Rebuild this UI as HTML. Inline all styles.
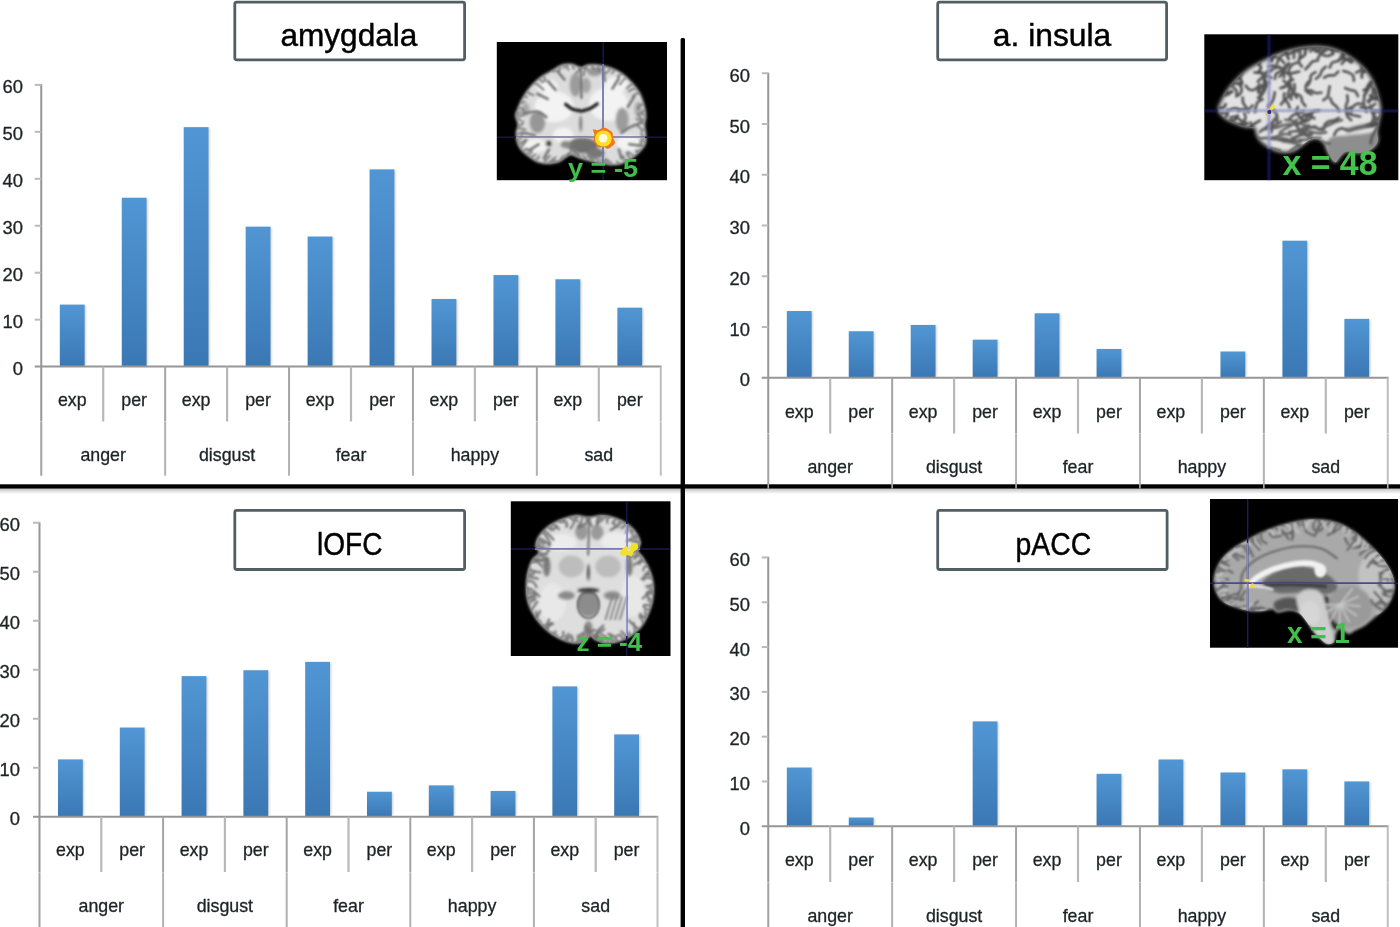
<!DOCTYPE html>
<html lang="en"><head><meta charset="utf-8"><title>figure</title>
<style>html,body{margin:0;padding:0;background:#fff;}body{width:1400px;height:927px;position:relative;overflow:hidden;font-family:"Liberation Sans", sans-serif;}</style>
</head><body>
<svg width="1400" height="927" viewBox="0 0 1400 927" style="position:absolute;left:0;top:0" font-family='"Liberation Sans", sans-serif'>
<defs>
<linearGradient id="bar" x1="0" y1="0" x2="0" y2="1"><stop offset="0" stop-color="#5196d4"/><stop offset="1" stop-color="#3a78b4"/></linearGradient>
<linearGradient id="shd" x1="0" y1="0" x2="0" y2="1"><stop offset="0" stop-color="#000" stop-opacity="0.24"/><stop offset="1" stop-color="#000" stop-opacity="0"/></linearGradient>
<filter id="b1" x="-20%" y="-20%" width="140%" height="140%"><feGaussianBlur stdDeviation="1"/></filter>
<filter id="b2" x="-20%" y="-20%" width="140%" height="140%"><feGaussianBlur stdDeviation="2"/></filter>
<filter id="b06" x="-20%" y="-20%" width="140%" height="140%"><feGaussianBlur stdDeviation="0.6"/></filter>
<filter id="b12" x="-20%" y="-20%" width="140%" height="140%"><feGaussianBlur stdDeviation="1.2"/></filter>
<filter id="b15" x="-20%" y="-20%" width="140%" height="140%"><feGaussianBlur stdDeviation="1.5"/></filter>
</defs>
<rect width="1400" height="927" fill="#fff"/>
<rect x="61.02" y="305.43" width="24.8" height="59.77" fill="#000" opacity="0.18" filter="url(#b1)"/>
<rect x="59.82" y="304.63" width="24.8" height="61.97" fill="url(#bar)"/>
<rect x="122.98" y="198.57" width="24.8" height="166.63" fill="#000" opacity="0.18" filter="url(#b1)"/>
<rect x="121.78" y="197.77" width="24.8" height="168.83" fill="url(#bar)"/>
<rect x="184.92" y="127.95" width="24.8" height="237.25" fill="#000" opacity="0.18" filter="url(#b1)"/>
<rect x="183.72" y="127.16" width="24.8" height="239.45" fill="url(#bar)"/>
<rect x="246.88" y="227.49" width="24.8" height="137.71" fill="#000" opacity="0.18" filter="url(#b1)"/>
<rect x="245.68" y="226.69" width="24.8" height="139.91" fill="url(#bar)"/>
<rect x="308.83" y="237.35" width="24.8" height="127.85" fill="#000" opacity="0.18" filter="url(#b1)"/>
<rect x="307.63" y="236.55" width="24.8" height="130.05" fill="url(#bar)"/>
<rect x="370.78" y="170.21" width="24.8" height="194.99" fill="#000" opacity="0.18" filter="url(#b1)"/>
<rect x="369.58" y="169.41" width="24.8" height="197.19" fill="url(#bar)"/>
<rect x="432.73" y="299.79" width="24.8" height="65.41" fill="#000" opacity="0.18" filter="url(#b1)"/>
<rect x="431.53" y="298.99" width="24.8" height="67.61" fill="url(#bar)"/>
<rect x="494.68" y="275.85" width="24.8" height="89.35" fill="#000" opacity="0.18" filter="url(#b1)"/>
<rect x="493.48" y="275.05" width="24.8" height="91.55" fill="url(#bar)"/>
<rect x="556.63" y="280.07" width="24.8" height="85.13" fill="#000" opacity="0.18" filter="url(#b1)"/>
<rect x="555.43" y="279.27" width="24.8" height="87.33" fill="url(#bar)"/>
<rect x="618.58" y="308.48" width="24.8" height="56.72" fill="#000" opacity="0.18" filter="url(#b1)"/>
<rect x="617.38" y="307.68" width="24.8" height="58.92" fill="url(#bar)"/>
<g stroke="#969696" stroke-width="2" fill="none">
<line x1="41.25" y1="84.29999999999998" x2="41.25" y2="421.5"/>
<line x1="41.25" y1="421.8" x2="41.25" y2="475.75" stroke="#a2a2a2"/>
<line x1="34.75" y1="366.6" x2="661.55" y2="366.6"/>
<line x1="34.75" y1="319.65" x2="41.25" y2="319.65" stroke="#bababa"/>
<line x1="34.75" y1="272.70" x2="41.25" y2="272.70" stroke="#bababa"/>
<line x1="34.75" y1="225.75" x2="41.25" y2="225.75" stroke="#bababa"/>
<line x1="34.75" y1="178.80" x2="41.25" y2="178.80" stroke="#bababa"/>
<line x1="34.75" y1="131.85" x2="41.25" y2="131.85" stroke="#bababa"/>
<line x1="34.75" y1="84.90" x2="41.25" y2="84.90" stroke="#bababa"/>
<line x1="103.20" y1="366.6" x2="103.20" y2="421.5" stroke="#b8b8b8" stroke-width="2.2"/>
<line x1="165.15" y1="366.6" x2="165.15" y2="421.5" stroke="#a4a4a4"/>
<line x1="165.15" y1="421.8" x2="165.15" y2="475.75" stroke="#b2b2b2"/>
<line x1="227.10" y1="366.6" x2="227.10" y2="421.5" stroke="#b8b8b8" stroke-width="2.2"/>
<line x1="289.05" y1="366.6" x2="289.05" y2="421.5" stroke="#a4a4a4"/>
<line x1="289.05" y1="421.8" x2="289.05" y2="475.75" stroke="#b2b2b2"/>
<line x1="351.00" y1="366.6" x2="351.00" y2="421.5" stroke="#b8b8b8" stroke-width="2.2"/>
<line x1="412.95" y1="366.6" x2="412.95" y2="421.5" stroke="#a4a4a4"/>
<line x1="412.95" y1="421.8" x2="412.95" y2="475.75" stroke="#b2b2b2"/>
<line x1="474.90" y1="366.6" x2="474.90" y2="421.5" stroke="#b8b8b8" stroke-width="2.2"/>
<line x1="536.85" y1="366.6" x2="536.85" y2="421.5" stroke="#a4a4a4"/>
<line x1="536.85" y1="421.8" x2="536.85" y2="475.75" stroke="#b2b2b2"/>
<line x1="598.80" y1="366.6" x2="598.80" y2="421.5" stroke="#b8b8b8" stroke-width="2.2"/>
<line x1="660.75" y1="366.6" x2="660.75" y2="421.5" stroke="#bcbcbc"/>
<line x1="660.75" y1="421.8" x2="660.75" y2="475.75" stroke="#c0c0c0"/>
</g>
<g fill="#1c2326" font-size="17.8" stroke="#1c2326" stroke-width="0.3">
<text x="23" y="375.10" text-anchor="end" font-size="18.4">0</text>
<text x="23" y="328.15" text-anchor="end" font-size="18.4">10</text>
<text x="23" y="281.20" text-anchor="end" font-size="18.4">20</text>
<text x="23" y="234.25" text-anchor="end" font-size="18.4">30</text>
<text x="23" y="187.30" text-anchor="end" font-size="18.4">40</text>
<text x="23" y="140.35" text-anchor="end" font-size="18.4">50</text>
<text x="23" y="93.40" text-anchor="end" font-size="18.4">60</text>
<text x="72.22" y="405.85" text-anchor="middle">exp</text>
<text x="134.18" y="405.85" text-anchor="middle">per</text>
<text x="196.12" y="405.85" text-anchor="middle">exp</text>
<text x="258.08" y="405.85" text-anchor="middle">per</text>
<text x="320.03" y="405.85" text-anchor="middle">exp</text>
<text x="381.98" y="405.85" text-anchor="middle">per</text>
<text x="443.93" y="405.85" text-anchor="middle">exp</text>
<text x="505.88" y="405.85" text-anchor="middle">per</text>
<text x="567.83" y="405.85" text-anchor="middle">exp</text>
<text x="629.77" y="405.85" text-anchor="middle">per</text>
<text x="103.20" y="461.10" text-anchor="middle">anger</text>
<text x="227.10" y="461.10" text-anchor="middle">disgust</text>
<text x="351.00" y="461.10" text-anchor="middle">fear</text>
<text x="474.90" y="461.10" text-anchor="middle">happy</text>
<text x="598.80" y="461.10" text-anchor="middle">sad</text>
</g>
<rect x="788.03" y="311.81" width="24.8" height="64.54" fill="#000" opacity="0.18" filter="url(#b1)"/>
<rect x="786.83" y="311.01" width="24.8" height="66.74" fill="url(#bar)"/>
<rect x="849.98" y="332.06" width="24.8" height="44.29" fill="#000" opacity="0.18" filter="url(#b1)"/>
<rect x="848.77" y="331.26" width="24.8" height="46.49" fill="url(#bar)"/>
<rect x="911.93" y="325.77" width="24.8" height="50.58" fill="#000" opacity="0.18" filter="url(#b1)"/>
<rect x="910.73" y="324.97" width="24.8" height="52.78" fill="url(#bar)"/>
<rect x="973.88" y="340.49" width="24.8" height="35.86" fill="#000" opacity="0.18" filter="url(#b1)"/>
<rect x="972.68" y="339.69" width="24.8" height="38.06" fill="url(#bar)"/>
<rect x="1035.83" y="314.10" width="24.8" height="62.25" fill="#000" opacity="0.18" filter="url(#b1)"/>
<rect x="1034.62" y="313.30" width="24.8" height="64.45" fill="url(#bar)"/>
<rect x="1097.77" y="349.77" width="24.8" height="26.58" fill="#000" opacity="0.18" filter="url(#b1)"/>
<rect x="1096.57" y="348.97" width="24.8" height="28.78" fill="url(#bar)"/>
<rect x="1221.67" y="352.31" width="24.8" height="24.04" fill="#000" opacity="0.18" filter="url(#b1)"/>
<rect x="1220.47" y="351.51" width="24.8" height="26.24" fill="url(#bar)"/>
<rect x="1283.62" y="241.53" width="24.8" height="134.83" fill="#000" opacity="0.18" filter="url(#b1)"/>
<rect x="1282.42" y="240.72" width="24.8" height="137.03" fill="url(#bar)"/>
<rect x="1345.58" y="319.68" width="24.8" height="56.67" fill="#000" opacity="0.18" filter="url(#b1)"/>
<rect x="1344.38" y="318.88" width="24.8" height="58.87" fill="url(#bar)"/>
<g stroke="#969696" stroke-width="2" fill="none">
<line x1="768.25" y1="72.65" x2="768.25" y2="433.5"/>
<line x1="768.25" y1="433.8" x2="768.25" y2="484.6" stroke="#a2a2a2"/>
<line x1="761.75" y1="377.75" x2="1388.55" y2="377.75"/>
<line x1="761.75" y1="327.00" x2="768.25" y2="327.00" stroke="#bababa"/>
<line x1="761.75" y1="276.25" x2="768.25" y2="276.25" stroke="#bababa"/>
<line x1="761.75" y1="225.50" x2="768.25" y2="225.50" stroke="#bababa"/>
<line x1="761.75" y1="174.75" x2="768.25" y2="174.75" stroke="#bababa"/>
<line x1="761.75" y1="124.00" x2="768.25" y2="124.00" stroke="#bababa"/>
<line x1="761.75" y1="73.25" x2="768.25" y2="73.25" stroke="#bababa"/>
<line x1="830.20" y1="377.75" x2="830.20" y2="433.5" stroke="#b8b8b8" stroke-width="2.2"/>
<line x1="892.15" y1="377.75" x2="892.15" y2="433.5" stroke="#a4a4a4"/>
<line x1="892.15" y1="433.8" x2="892.15" y2="484.6" stroke="#b2b2b2"/>
<line x1="954.10" y1="377.75" x2="954.10" y2="433.5" stroke="#b8b8b8" stroke-width="2.2"/>
<line x1="1016.05" y1="377.75" x2="1016.05" y2="433.5" stroke="#a4a4a4"/>
<line x1="1016.05" y1="433.8" x2="1016.05" y2="484.6" stroke="#b2b2b2"/>
<line x1="1078.00" y1="377.75" x2="1078.00" y2="433.5" stroke="#b8b8b8" stroke-width="2.2"/>
<line x1="1139.95" y1="377.75" x2="1139.95" y2="433.5" stroke="#a4a4a4"/>
<line x1="1139.95" y1="433.8" x2="1139.95" y2="484.6" stroke="#b2b2b2"/>
<line x1="1201.90" y1="377.75" x2="1201.90" y2="433.5" stroke="#b8b8b8" stroke-width="2.2"/>
<line x1="1263.85" y1="377.75" x2="1263.85" y2="433.5" stroke="#a4a4a4"/>
<line x1="1263.85" y1="433.8" x2="1263.85" y2="484.6" stroke="#b2b2b2"/>
<line x1="1325.80" y1="377.75" x2="1325.80" y2="433.5" stroke="#b8b8b8" stroke-width="2.2"/>
<line x1="1387.75" y1="377.75" x2="1387.75" y2="433.5" stroke="#bcbcbc"/>
<line x1="1387.75" y1="433.8" x2="1387.75" y2="484.6" stroke="#c0c0c0"/>
</g>
<g fill="#1c2326" font-size="17.8" stroke="#1c2326" stroke-width="0.3">
<text x="750" y="386.25" text-anchor="end" font-size="18.4">0</text>
<text x="750" y="335.50" text-anchor="end" font-size="18.4">10</text>
<text x="750" y="284.75" text-anchor="end" font-size="18.4">20</text>
<text x="750" y="234.00" text-anchor="end" font-size="18.4">30</text>
<text x="750" y="183.25" text-anchor="end" font-size="18.4">40</text>
<text x="750" y="132.50" text-anchor="end" font-size="18.4">50</text>
<text x="750" y="81.75" text-anchor="end" font-size="18.4">60</text>
<text x="799.23" y="417.60" text-anchor="middle">exp</text>
<text x="861.17" y="417.60" text-anchor="middle">per</text>
<text x="923.12" y="417.60" text-anchor="middle">exp</text>
<text x="985.08" y="417.60" text-anchor="middle">per</text>
<text x="1047.03" y="417.60" text-anchor="middle">exp</text>
<text x="1108.97" y="417.60" text-anchor="middle">per</text>
<text x="1170.92" y="417.60" text-anchor="middle">exp</text>
<text x="1232.88" y="417.60" text-anchor="middle">per</text>
<text x="1294.83" y="417.60" text-anchor="middle">exp</text>
<text x="1356.78" y="417.60" text-anchor="middle">per</text>
<text x="830.20" y="473.10" text-anchor="middle">anger</text>
<text x="954.10" y="473.10" text-anchor="middle">disgust</text>
<text x="1078.00" y="473.10" text-anchor="middle">fear</text>
<text x="1201.90" y="473.10" text-anchor="middle">happy</text>
<text x="1325.80" y="473.10" text-anchor="middle">sad</text>
</g>
<rect x="59.20" y="760.22" width="24.8" height="55.13" fill="#000" opacity="0.18" filter="url(#b1)"/>
<rect x="58.00" y="759.42" width="24.8" height="57.33" fill="url(#bar)"/>
<rect x="121.00" y="728.37" width="24.8" height="86.98" fill="#000" opacity="0.18" filter="url(#b1)"/>
<rect x="119.80" y="727.57" width="24.8" height="89.18" fill="url(#bar)"/>
<rect x="182.80" y="676.92" width="24.8" height="138.43" fill="#000" opacity="0.18" filter="url(#b1)"/>
<rect x="181.60" y="676.12" width="24.8" height="140.63" fill="url(#bar)"/>
<rect x="244.60" y="671.04" width="24.8" height="144.31" fill="#000" opacity="0.18" filter="url(#b1)"/>
<rect x="243.40" y="670.24" width="24.8" height="146.51" fill="url(#bar)"/>
<rect x="306.40" y="662.71" width="24.8" height="152.64" fill="#000" opacity="0.18" filter="url(#b1)"/>
<rect x="305.20" y="661.91" width="24.8" height="154.84" fill="url(#bar)"/>
<rect x="368.20" y="792.56" width="24.8" height="22.79" fill="#000" opacity="0.18" filter="url(#b1)"/>
<rect x="367.00" y="791.76" width="24.8" height="24.99" fill="url(#bar)"/>
<rect x="430.00" y="786.19" width="24.8" height="29.16" fill="#000" opacity="0.18" filter="url(#b1)"/>
<rect x="428.80" y="785.39" width="24.8" height="31.36" fill="url(#bar)"/>
<rect x="491.80" y="791.78" width="24.8" height="23.57" fill="#000" opacity="0.18" filter="url(#b1)"/>
<rect x="490.60" y="790.98" width="24.8" height="25.77" fill="url(#bar)"/>
<rect x="553.60" y="687.21" width="24.8" height="128.14" fill="#000" opacity="0.18" filter="url(#b1)"/>
<rect x="552.40" y="686.41" width="24.8" height="130.34" fill="url(#bar)"/>
<rect x="615.40" y="735.23" width="24.8" height="80.12" fill="#000" opacity="0.18" filter="url(#b1)"/>
<rect x="614.20" y="734.43" width="24.8" height="82.32" fill="url(#bar)"/>
<g stroke="#969696" stroke-width="2" fill="none">
<line x1="39.5" y1="522.15" x2="39.5" y2="872.0"/>
<line x1="39.5" y1="872.3" x2="39.5" y2="930" stroke="#a2a2a2"/>
<line x1="33.0" y1="816.75" x2="658.3" y2="816.75"/>
<line x1="33.0" y1="767.75" x2="39.5" y2="767.75" stroke="#bababa"/>
<line x1="33.0" y1="718.75" x2="39.5" y2="718.75" stroke="#bababa"/>
<line x1="33.0" y1="669.75" x2="39.5" y2="669.75" stroke="#bababa"/>
<line x1="33.0" y1="620.75" x2="39.5" y2="620.75" stroke="#bababa"/>
<line x1="33.0" y1="571.75" x2="39.5" y2="571.75" stroke="#bababa"/>
<line x1="33.0" y1="522.75" x2="39.5" y2="522.75" stroke="#bababa"/>
<line x1="101.30" y1="816.75" x2="101.30" y2="872.0" stroke="#b8b8b8" stroke-width="2.2"/>
<line x1="163.10" y1="816.75" x2="163.10" y2="872.0" stroke="#a4a4a4"/>
<line x1="163.10" y1="872.3" x2="163.10" y2="930" stroke="#b2b2b2"/>
<line x1="224.90" y1="816.75" x2="224.90" y2="872.0" stroke="#b8b8b8" stroke-width="2.2"/>
<line x1="286.70" y1="816.75" x2="286.70" y2="872.0" stroke="#a4a4a4"/>
<line x1="286.70" y1="872.3" x2="286.70" y2="930" stroke="#b2b2b2"/>
<line x1="348.50" y1="816.75" x2="348.50" y2="872.0" stroke="#b8b8b8" stroke-width="2.2"/>
<line x1="410.30" y1="816.75" x2="410.30" y2="872.0" stroke="#a4a4a4"/>
<line x1="410.30" y1="872.3" x2="410.30" y2="930" stroke="#b2b2b2"/>
<line x1="472.10" y1="816.75" x2="472.10" y2="872.0" stroke="#b8b8b8" stroke-width="2.2"/>
<line x1="533.90" y1="816.75" x2="533.90" y2="872.0" stroke="#a4a4a4"/>
<line x1="533.90" y1="872.3" x2="533.90" y2="930" stroke="#b2b2b2"/>
<line x1="595.70" y1="816.75" x2="595.70" y2="872.0" stroke="#b8b8b8" stroke-width="2.2"/>
<line x1="657.50" y1="816.75" x2="657.50" y2="872.0" stroke="#bcbcbc"/>
<line x1="657.50" y1="872.3" x2="657.50" y2="930" stroke="#c0c0c0"/>
</g>
<g fill="#1c2326" font-size="17.8" stroke="#1c2326" stroke-width="0.3">
<text x="20" y="825.25" text-anchor="end" font-size="18.4">0</text>
<text x="20" y="776.25" text-anchor="end" font-size="18.4">10</text>
<text x="20" y="727.25" text-anchor="end" font-size="18.4">20</text>
<text x="20" y="678.25" text-anchor="end" font-size="18.4">30</text>
<text x="20" y="629.25" text-anchor="end" font-size="18.4">40</text>
<text x="20" y="580.25" text-anchor="end" font-size="18.4">50</text>
<text x="20" y="531.25" text-anchor="end" font-size="18.4">60</text>
<text x="70.40" y="855.60" text-anchor="middle">exp</text>
<text x="132.20" y="855.60" text-anchor="middle">per</text>
<text x="194.00" y="855.60" text-anchor="middle">exp</text>
<text x="255.80" y="855.60" text-anchor="middle">per</text>
<text x="317.60" y="855.60" text-anchor="middle">exp</text>
<text x="379.40" y="855.60" text-anchor="middle">per</text>
<text x="441.20" y="855.60" text-anchor="middle">exp</text>
<text x="503.00" y="855.60" text-anchor="middle">per</text>
<text x="564.80" y="855.60" text-anchor="middle">exp</text>
<text x="626.60" y="855.60" text-anchor="middle">per</text>
<text x="101.30" y="911.60" text-anchor="middle">anger</text>
<text x="224.90" y="911.60" text-anchor="middle">disgust</text>
<text x="348.50" y="911.60" text-anchor="middle">fear</text>
<text x="472.10" y="911.60" text-anchor="middle">happy</text>
<text x="595.70" y="911.60" text-anchor="middle">sad</text>
</g>
<rect x="788.03" y="768.36" width="24.8" height="56.49" fill="#000" opacity="0.18" filter="url(#b1)"/>
<rect x="786.83" y="767.56" width="24.8" height="58.69" fill="url(#bar)"/>
<rect x="849.98" y="818.31" width="24.8" height="6.54" fill="#000" opacity="0.18" filter="url(#b1)"/>
<rect x="848.77" y="817.51" width="24.8" height="8.74" fill="url(#bar)"/>
<rect x="973.88" y="722.22" width="24.8" height="102.63" fill="#000" opacity="0.18" filter="url(#b1)"/>
<rect x="972.68" y="721.42" width="24.8" height="104.83" fill="url(#bar)"/>
<rect x="1097.77" y="774.63" width="24.8" height="50.22" fill="#000" opacity="0.18" filter="url(#b1)"/>
<rect x="1096.57" y="773.83" width="24.8" height="52.42" fill="url(#bar)"/>
<rect x="1159.72" y="760.30" width="24.8" height="64.55" fill="#000" opacity="0.18" filter="url(#b1)"/>
<rect x="1158.52" y="759.50" width="24.8" height="66.75" fill="url(#bar)"/>
<rect x="1221.67" y="773.29" width="24.8" height="51.56" fill="#000" opacity="0.18" filter="url(#b1)"/>
<rect x="1220.47" y="772.49" width="24.8" height="53.76" fill="url(#bar)"/>
<rect x="1283.62" y="770.15" width="24.8" height="54.70" fill="#000" opacity="0.18" filter="url(#b1)"/>
<rect x="1282.42" y="769.35" width="24.8" height="56.90" fill="url(#bar)"/>
<rect x="1345.58" y="782.25" width="24.8" height="42.60" fill="#000" opacity="0.18" filter="url(#b1)"/>
<rect x="1344.38" y="781.45" width="24.8" height="44.80" fill="url(#bar)"/>
<g stroke="#969696" stroke-width="2" fill="none">
<line x1="768.25" y1="556.85" x2="768.25" y2="882.0"/>
<line x1="768.25" y1="882.3" x2="768.25" y2="930" stroke="#a2a2a2"/>
<line x1="761.75" y1="826.25" x2="1388.55" y2="826.25"/>
<line x1="761.75" y1="781.45" x2="768.25" y2="781.45" stroke="#bababa"/>
<line x1="761.75" y1="736.65" x2="768.25" y2="736.65" stroke="#bababa"/>
<line x1="761.75" y1="691.85" x2="768.25" y2="691.85" stroke="#bababa"/>
<line x1="761.75" y1="647.05" x2="768.25" y2="647.05" stroke="#bababa"/>
<line x1="761.75" y1="602.25" x2="768.25" y2="602.25" stroke="#bababa"/>
<line x1="761.75" y1="557.45" x2="768.25" y2="557.45" stroke="#bababa"/>
<line x1="830.20" y1="826.25" x2="830.20" y2="882.0" stroke="#b8b8b8" stroke-width="2.2"/>
<line x1="892.15" y1="826.25" x2="892.15" y2="882.0" stroke="#a4a4a4"/>
<line x1="892.15" y1="882.3" x2="892.15" y2="930" stroke="#b2b2b2"/>
<line x1="954.10" y1="826.25" x2="954.10" y2="882.0" stroke="#b8b8b8" stroke-width="2.2"/>
<line x1="1016.05" y1="826.25" x2="1016.05" y2="882.0" stroke="#a4a4a4"/>
<line x1="1016.05" y1="882.3" x2="1016.05" y2="930" stroke="#b2b2b2"/>
<line x1="1078.00" y1="826.25" x2="1078.00" y2="882.0" stroke="#b8b8b8" stroke-width="2.2"/>
<line x1="1139.95" y1="826.25" x2="1139.95" y2="882.0" stroke="#a4a4a4"/>
<line x1="1139.95" y1="882.3" x2="1139.95" y2="930" stroke="#b2b2b2"/>
<line x1="1201.90" y1="826.25" x2="1201.90" y2="882.0" stroke="#b8b8b8" stroke-width="2.2"/>
<line x1="1263.85" y1="826.25" x2="1263.85" y2="882.0" stroke="#a4a4a4"/>
<line x1="1263.85" y1="882.3" x2="1263.85" y2="930" stroke="#b2b2b2"/>
<line x1="1325.80" y1="826.25" x2="1325.80" y2="882.0" stroke="#b8b8b8" stroke-width="2.2"/>
<line x1="1387.75" y1="826.25" x2="1387.75" y2="882.0" stroke="#bcbcbc"/>
<line x1="1387.75" y1="882.3" x2="1387.75" y2="930" stroke="#c0c0c0"/>
</g>
<g fill="#1c2326" font-size="17.8" stroke="#1c2326" stroke-width="0.3">
<text x="750" y="834.75" text-anchor="end" font-size="18.4">0</text>
<text x="750" y="789.95" text-anchor="end" font-size="18.4">10</text>
<text x="750" y="745.15" text-anchor="end" font-size="18.4">20</text>
<text x="750" y="700.35" text-anchor="end" font-size="18.4">30</text>
<text x="750" y="655.55" text-anchor="end" font-size="18.4">40</text>
<text x="750" y="610.75" text-anchor="end" font-size="18.4">50</text>
<text x="750" y="565.95" text-anchor="end" font-size="18.4">60</text>
<text x="799.23" y="865.60" text-anchor="middle">exp</text>
<text x="861.17" y="865.60" text-anchor="middle">per</text>
<text x="923.12" y="865.60" text-anchor="middle">exp</text>
<text x="985.08" y="865.60" text-anchor="middle">per</text>
<text x="1047.03" y="865.60" text-anchor="middle">exp</text>
<text x="1108.97" y="865.60" text-anchor="middle">per</text>
<text x="1170.92" y="865.60" text-anchor="middle">exp</text>
<text x="1232.88" y="865.60" text-anchor="middle">per</text>
<text x="1294.83" y="865.60" text-anchor="middle">exp</text>
<text x="1356.78" y="865.60" text-anchor="middle">per</text>
<text x="830.20" y="921.60" text-anchor="middle">anger</text>
<text x="954.10" y="921.60" text-anchor="middle">disgust</text>
<text x="1078.00" y="921.60" text-anchor="middle">fear</text>
<text x="1201.90" y="921.60" text-anchor="middle">happy</text>
<text x="1325.80" y="921.60" text-anchor="middle">sad</text>
</g>
<rect x="0" y="484.3" width="1400" height="4.3" fill="#000"/>
<rect x="0" y="488.5" width="1400" height="5.5" fill="url(#shd)"/>
<line x1="768.25" y1="484" x2="768.25" y2="488.6" stroke="#b0b0b0" stroke-width="1.6"/>
<line x1="892.15" y1="484" x2="892.15" y2="488.6" stroke="#b0b0b0" stroke-width="1.6"/>
<line x1="1016.05" y1="484" x2="1016.05" y2="488.6" stroke="#b0b0b0" stroke-width="1.6"/>
<line x1="1139.95" y1="484" x2="1139.95" y2="488.6" stroke="#b0b0b0" stroke-width="1.6"/>
<line x1="1263.85" y1="484" x2="1263.85" y2="488.6" stroke="#b0b0b0" stroke-width="1.6"/>
<line x1="1387.75" y1="484" x2="1387.75" y2="488.6" stroke="#b0b0b0" stroke-width="1.6"/>
<rect x="680.6" y="38" width="4.4" height="900" rx="1.5" fill="#000"/>
<rect x="234.8" y="2.2" width="229.79999999999998" height="57.60000000000001" rx="2" fill="#fff" stroke="#525f62" stroke-width="2.8"/>
<text x="280.4" y="45.5" textLength="137.0" lengthAdjust="spacingAndGlyphs" font-size="32" fill="#000" stroke="#000" stroke-width="0.45">amygdala</text>
<rect x="937.6999999999999" y="2.2" width="228.90000000000003" height="57.60000000000001" rx="2" fill="#fff" stroke="#525f62" stroke-width="2.8"/>
<text x="992.8" y="45.5" textLength="118.5" lengthAdjust="spacingAndGlyphs" font-size="32" fill="#000" stroke="#000" stroke-width="0.45">a. insula</text>
<rect x="234.8" y="510.29999999999995" width="229.79999999999998" height="59.2" rx="2" fill="#fff" stroke="#525f62" stroke-width="2.8"/>
<text x="317.0" y="554.8" textLength="65.5" lengthAdjust="spacingAndGlyphs" font-size="32" fill="#000" stroke="#000" stroke-width="0.45">lOFC</text>
<rect x="937.6999999999999" y="510.29999999999995" width="229.40000000000003" height="59.2" rx="2" fill="#fff" stroke="#525f62" stroke-width="2.8"/>
<text x="1015.6" y="554.8" textLength="75.6" lengthAdjust="spacingAndGlyphs" font-size="32" fill="#000" stroke="#000" stroke-width="0.45">pACC</text>
<g id="brain1">
<rect x="496.8" y="42" width="170.2" height="138.2" fill="#000"/>
<clipPath id="c1"><rect x="496.8" y="42" width="170.2" height="138.2"/></clipPath>
<g clip-path="url(#c1)">
<g filter="url(#b15)">
<path d="M580.7,67.3C578.1,67.2 575.4,64.5 572.3,64.1C569.2,63.6 565.4,63.6 561.9,64.7C558.5,65.8 555.3,68.4 551.6,70.5C547.9,72.7 543.6,74.8 539.9,77.6C536.3,80.5 532.6,83.8 529.6,87.4C526.6,90.9 523.9,95.3 521.8,99.0C519.8,102.7 518.4,106.6 517.3,109.4C516.2,112.2 515.2,113.2 515.4,115.8C515.5,118.4 517.8,122.1 517.9,124.9C518.0,127.7 516.1,129.6 516.0,132.6C515.9,135.7 516.3,140.0 517.3,143.0C518.3,146.0 519.8,148.4 521.8,150.8C523.9,153.1 526.8,155.3 529.6,157.2C532.4,159.2 535.4,161.3 538.6,162.4C541.9,163.5 545.6,163.8 549.0,163.7C552.5,163.6 556.6,162.8 559.4,161.8C562.2,160.7 563.9,158.4 565.8,157.2C567.8,156.1 569.1,154.7 571.0,154.7C572.9,154.7 575.1,156.4 577.5,157.2C579.8,158.1 582.2,159.0 585.2,159.8C588.3,160.7 592.6,161.8 595.6,162.4C598.6,163.1 600.6,163.3 603.4,163.7C606.2,164.1 609.4,165.0 612.4,165.0C615.4,165.0 618.2,164.8 621.5,163.7C624.7,162.6 628.8,160.5 631.8,158.5C634.8,156.6 637.3,154.4 639.6,152.1C641.9,149.7 644.3,147.1 645.4,144.3C646.5,141.5 646.2,138.5 646.1,135.2C646.0,132.0 644.8,128.1 644.8,124.9C644.8,121.6 646.2,119.3 646.1,115.8C646.0,112.4 645.2,108.1 644.1,104.2C643.0,100.3 641.6,96.2 639.6,92.5C637.5,88.9 634.8,85.4 631.8,82.2C628.8,78.9 625.1,75.6 621.5,73.1C617.8,70.6 613.7,68.7 609.8,67.3C605.9,65.9 601.8,65.1 598.2,64.7C594.5,64.3 590.7,64.3 587.8,64.7C584.9,65.1 583.3,67.4 580.7,67.3Z" fill="#dcdcdc"/>
</g>
<clipPath id="c1b"><path d="M580.7,67.3C578.1,67.2 575.4,64.5 572.3,64.1C569.2,63.6 565.4,63.6 561.9,64.7C558.5,65.8 555.3,68.4 551.6,70.5C547.9,72.7 543.6,74.8 539.9,77.6C536.3,80.5 532.6,83.8 529.6,87.4C526.6,90.9 523.9,95.3 521.8,99.0C519.8,102.7 518.4,106.6 517.3,109.4C516.2,112.2 515.2,113.2 515.4,115.8C515.5,118.4 517.8,122.1 517.9,124.9C518.0,127.7 516.1,129.6 516.0,132.6C515.9,135.7 516.3,140.0 517.3,143.0C518.3,146.0 519.8,148.4 521.8,150.8C523.9,153.1 526.8,155.3 529.6,157.2C532.4,159.2 535.4,161.3 538.6,162.4C541.9,163.5 545.6,163.8 549.0,163.7C552.5,163.6 556.6,162.8 559.4,161.8C562.2,160.7 563.9,158.4 565.8,157.2C567.8,156.1 569.1,154.7 571.0,154.7C572.9,154.7 575.1,156.4 577.5,157.2C579.8,158.1 582.2,159.0 585.2,159.8C588.3,160.7 592.6,161.8 595.6,162.4C598.6,163.1 600.6,163.3 603.4,163.7C606.2,164.1 609.4,165.0 612.4,165.0C615.4,165.0 618.2,164.8 621.5,163.7C624.7,162.6 628.8,160.5 631.8,158.5C634.8,156.6 637.3,154.4 639.6,152.1C641.9,149.7 644.3,147.1 645.4,144.3C646.5,141.5 646.2,138.5 646.1,135.2C646.0,132.0 644.8,128.1 644.8,124.9C644.8,121.6 646.2,119.3 646.1,115.8C646.0,112.4 645.2,108.1 644.1,104.2C643.0,100.3 641.6,96.2 639.6,92.5C637.5,88.9 634.8,85.4 631.8,82.2C628.8,78.9 625.1,75.6 621.5,73.1C617.8,70.6 613.7,68.7 609.8,67.3C605.9,65.9 601.8,65.1 598.2,64.7C594.5,64.3 590.7,64.3 587.8,64.7C584.9,65.1 583.3,67.4 580.7,67.3Z"/></clipPath>
<g clip-path="url(#c1b)"><g filter="url(#b15)">
<ellipse cx="554.2" cy="106.8" rx="19.4" ry="15.5" fill="#f3f3f3"/>
<ellipse cx="608.5" cy="104.2" rx="19.4" ry="16.8" fill="#f3f3f3"/>
<ellipse cx="547.7" cy="87.4" rx="10.4" ry="7.8" fill="#f3f3f3"/>
<ellipse cx="616.3" cy="84.8" rx="11.6" ry="7.8" fill="#f3f3f3"/>
<ellipse cx="536.1" cy="145.6" rx="11.6" ry="6.5" fill="#f3f3f3"/>
<ellipse cx="627.9" cy="143.0" rx="11.6" ry="7.8" fill="#f3f3f3"/>
<ellipse cx="563.2" cy="135.2" rx="10.4" ry="7.8" fill="#f3f3f3"/>
<ellipse cx="575.5" cy="84.8" rx="5.8" ry="11.6" fill="#9c9c9c"/>
<ellipse cx="585.9" cy="85.4" rx="4.9" ry="7.8" fill="#a6a6a6"/>
<ellipse cx="594.3" cy="71.8" rx="7.1" ry="4.5" fill="#9a9a9a"/>
<ellipse cx="537.4" cy="122.3" rx="7.8" ry="11.0" fill="#969696"/>
<ellipse cx="622.1" cy="119.7" rx="6.5" ry="12.3" fill="#9c9c9c"/>
<ellipse cx="582.6" cy="145.6" rx="15.5" ry="7.8" fill="#707070"/>
<ellipse cx="548.4" cy="143.7" rx="2.8" ry="2.6" fill="#2e2e2e"/>
<ellipse cx="580.7" cy="123.6" rx="1.0" ry="8.4" fill="#4a4a4a"/>
<ellipse cx="525.7" cy="109.4" rx="3.9" ry="6.5" fill="#aaa"/>
<ellipse cx="638.3" cy="109.4" rx="3.9" ry="7.8" fill="#aaa"/>
<ellipse cx="565.8" cy="144.3" rx="5.2" ry="3.9" fill="#888"/>
<ellipse cx="595.6" cy="153.4" rx="9.1" ry="5.2" fill="#777"/>
</g><g filter="url(#b1)" fill="none" stroke-linecap="round">
<path d="M547.7,80.9C549.0,82.4 554.2,88.4 555.5,89.9" stroke="#777" stroke-width="2.6"/>
<path d="M556.8,70.5C558.1,72.0 563.2,78.1 564.5,79.6" stroke="#777" stroke-width="2.6"/>
<path d="M537.4,93.8C539.1,94.7 546.0,98.1 547.7,99.0" stroke="#777" stroke-width="2.6"/>
<path d="M524.4,113.2C526.6,113.0 533.7,111.3 537.4,111.9C541.0,112.6 544.9,116.3 546.4,117.1" stroke="#777" stroke-width="2.6"/>
<path d="M521.8,132.6C524.0,133.1 532.6,134.8 534.8,135.2" stroke="#777" stroke-width="2.6"/>
<path d="M528.3,150.8C530.0,149.7 536.9,145.4 538.6,144.3" stroke="#777" stroke-width="2.6"/>
<path d="M543.8,158.5C544.7,157.0 548.1,151.0 549.0,149.5" stroke="#777" stroke-width="2.6"/>
<path d="M634.4,96.4C633.3,98.1 629.0,105.0 627.9,106.8" stroke="#777" stroke-width="2.6"/>
<path d="M618.9,78.3C617.8,80.0 613.5,86.9 612.4,88.6" stroke="#777" stroke-width="2.6"/>
<path d="M603.4,70.5C603.6,72.3 604.4,79.2 604.7,80.9" stroke="#777" stroke-width="2.6"/>
<path d="M642.2,122.3C640.0,123.2 632.7,125.7 629.2,127.5C625.8,129.2 622.8,131.8 621.5,132.6" stroke="#777" stroke-width="2.6"/>
<path d="M640.9,145.6C638.9,145.4 631.2,144.5 629.2,144.3" stroke="#777" stroke-width="2.6"/>
<path d="M621.5,158.5C621.0,157.0 619.3,151.0 618.9,149.5" stroke="#777" stroke-width="2.6"/>
<path d="M580.7,66.6C580.8,71.8 581.2,92.5 581.4,97.7" stroke="#777" stroke-width="2.6"/>
<path d="M579.7,66.2C579.6,66.8 579.7,68.4 579.1,69.6C578.5,70.8 576.7,72.9 576.2,73.6" stroke="#7c7c7c" stroke-width="2.0"/>
<path d="M573.7,64.0C573.6,64.4 572.8,65.8 572.9,66.6C572.9,67.4 573.9,68.6 574.1,69.0" stroke="#7c7c7c" stroke-width="2.0"/>
<path d="M566.9,63.8C567.0,64.5 567.0,66.7 567.3,67.6C567.5,68.6 568.4,69.3 568.7,69.6" stroke="#7c7c7c" stroke-width="2.0"/>
<path d="M562.0,64.2C562.4,64.4 563.9,64.8 564.3,65.4C564.7,66.1 564.3,67.6 564.3,68.0" stroke="#7c7c7c" stroke-width="2.0"/>
<path d="M558.8,65.8C559.1,66.2 560.2,67.4 560.2,68.3C560.3,69.1 559.3,70.4 559.1,70.8" stroke="#7c7c7c" stroke-width="2.0"/>
<path d="M551.3,70.0C551.8,70.1 553.6,70.5 554.1,70.8C554.5,71.1 554.0,71.6 554.0,71.8" stroke="#7c7c7c" stroke-width="2.0"/>
<path d="M542.8,75.1C543.2,75.9 544.9,78.4 545.1,79.5C545.3,80.6 544.2,81.3 544.1,81.7" stroke="#7c7c7c" stroke-width="2.0"/>
<path d="M539.0,77.7C539.4,78.3 540.9,80.4 541.5,81.2C542.0,81.9 542.1,82.0 542.2,82.2" stroke="#7c7c7c" stroke-width="2.0"/>
<path d="M533.2,83.1C533.9,83.3 535.8,83.2 537.5,84.3C539.2,85.4 542.5,88.9 543.5,89.8" stroke="#7c7c7c" stroke-width="2.0"/>
<path d="M526.1,91.4C526.7,91.8 528.4,92.9 529.6,93.5C530.9,94.2 532.8,94.8 533.4,95.1" stroke="#7c7c7c" stroke-width="2.0"/>
<path d="M523.4,95.5C523.7,95.6 524.4,96.1 525.0,96.3C525.6,96.6 526.6,97.0 526.9,97.2" stroke="#7c7c7c" stroke-width="2.0"/>
<path d="M519.9,101.9C520.1,102.1 520.5,102.9 521.3,102.8C522.1,102.7 524.2,101.7 524.8,101.5" stroke="#7c7c7c" stroke-width="2.0"/>
<path d="M517.3,107.8C518.3,108.0 522.0,107.8 523.1,109.0C524.3,110.1 524.0,113.6 524.2,114.5" stroke="#7c7c7c" stroke-width="2.0"/>
<path d="M516.0,111.5C516.5,111.6 518.2,112.3 519.0,112.4C519.8,112.5 520.7,112.3 521.0,112.3" stroke="#7c7c7c" stroke-width="2.0"/>
<path d="M515.4,113.6C516.1,114.0 518.1,115.8 519.6,115.9C521.1,116.1 523.5,114.7 524.3,114.4" stroke="#7c7c7c" stroke-width="2.0"/>
<path d="M515.5,118.8C515.8,118.7 516.3,117.7 517.2,118.1C518.1,118.4 520.2,120.3 520.9,120.8" stroke="#7c7c7c" stroke-width="2.0"/>
<path d="M517.2,125.5C517.9,125.4 520.3,125.6 521.3,125.0C522.3,124.5 522.9,122.4 523.2,121.9" stroke="#7c7c7c" stroke-width="2.0"/>
<path d="M516.6,127.7C517.5,127.9 520.6,128.3 522.1,128.7C523.6,129.0 525.1,129.6 525.7,129.8" stroke="#7c7c7c" stroke-width="2.0"/>
<path d="M515.7,135.0C516.1,134.8 517.8,134.3 518.5,133.9C519.2,133.5 519.8,133.0 520.0,132.8" stroke="#7c7c7c" stroke-width="2.0"/>
<path d="M516.6,141.2C517.1,140.9 518.6,140.3 519.6,139.2C520.6,138.0 521.9,135.0 522.4,134.2" stroke="#7c7c7c" stroke-width="2.0"/>
<path d="M517.0,143.7C517.7,143.5 519.5,143.5 521.0,142.8C522.5,142.2 525.3,140.1 526.2,139.6" stroke="#7c7c7c" stroke-width="2.0"/>
<path d="M519.8,148.5C520.4,147.8 522.3,145.3 523.4,144.0C524.5,142.6 525.9,141.0 526.4,140.4" stroke="#7c7c7c" stroke-width="2.0"/>
<path d="M523.0,152.6C523.2,152.2 523.3,150.9 524.1,150.3C524.8,149.6 526.9,149.0 527.5,148.7" stroke="#7c7c7c" stroke-width="2.0"/>
<path d="M525.6,154.6C526.4,154.5 529.7,154.2 530.7,153.5C531.7,152.9 531.5,151.1 531.6,150.6" stroke="#7c7c7c" stroke-width="2.0"/>
<path d="M530.0,158.1C530.5,157.8 532.2,156.8 533.1,156.3C534.0,155.8 535.0,155.1 535.4,154.9" stroke="#7c7c7c" stroke-width="2.0"/>
<path d="M535.0,161.1C535.5,160.6 537.4,158.9 538.1,158.1C538.7,157.3 538.9,156.7 539.0,156.4" stroke="#7c7c7c" stroke-width="2.0"/>
<path d="M544.5,163.8C544.7,163.2 544.6,161.9 545.5,160.5C546.4,159.2 549.1,156.6 549.8,155.8" stroke="#7c7c7c" stroke-width="2.0"/>
<path d="M548.8,164.2C549.0,163.8 548.8,163.0 549.9,161.8C551.1,160.7 554.7,158.0 555.7,157.3" stroke="#7c7c7c" stroke-width="2.0"/>
<path d="M552.5,163.3C552.7,162.9 552.8,161.1 553.6,160.9C554.5,160.6 556.9,161.7 557.5,161.9" stroke="#7c7c7c" stroke-width="2.0"/>
<path d="M558.9,162.3C559.2,162.0 560.1,160.9 560.5,160.2C561.0,159.5 561.3,158.5 561.5,158.2" stroke="#7c7c7c" stroke-width="2.0"/>
<path d="M562.6,160.1C562.6,159.6 562.5,157.8 562.7,157.0C563.0,156.3 563.9,156.0 564.2,155.7" stroke="#7c7c7c" stroke-width="2.0"/>
<path d="M566.7,157.3C566.8,156.9 566.8,155.2 567.2,154.5C567.6,153.8 568.8,153.3 569.1,153.1" stroke="#7c7c7c" stroke-width="2.0"/>
<path d="M568.0,156.7C568.3,156.2 569.0,155.3 569.7,154.1C570.3,153.0 571.7,150.6 572.1,149.9" stroke="#7c7c7c" stroke-width="2.0"/>
<path d="M572.7,156.0C573.1,155.4 574.8,153.2 575.0,152.1C575.2,151.0 574.0,149.8 573.9,149.3" stroke="#7c7c7c" stroke-width="2.0"/>
<path d="M575.2,157.0C575.6,156.5 578.0,155.3 577.6,153.8C577.3,152.2 573.8,148.7 573.1,147.7" stroke="#7c7c7c" stroke-width="2.0"/>
<path d="M579.0,158.4C579.0,157.7 579.2,155.4 579.0,154.6C578.8,153.8 577.9,153.6 577.7,153.4" stroke="#7c7c7c" stroke-width="2.0"/>
<path d="M584.7,160.3C584.8,159.9 585.9,159.1 585.6,158.2C585.2,157.4 583.1,155.8 582.6,155.3" stroke="#7c7c7c" stroke-width="2.0"/>
<path d="M589.6,161.6C589.8,161.0 591.0,159.0 590.7,158.1C590.5,157.1 588.5,156.2 588.1,155.9" stroke="#7c7c7c" stroke-width="2.0"/>
<path d="M593.0,162.4C593.1,161.8 593.3,159.9 593.1,159.0C592.9,158.1 592.2,157.4 592.0,157.1" stroke="#7c7c7c" stroke-width="2.0"/>
<path d="M599.2,163.6C598.8,162.8 597.6,160.1 597.0,159.0C596.3,157.9 595.4,157.4 595.0,157.1" stroke="#7c7c7c" stroke-width="2.0"/>
<path d="M602.2,164.2C602.3,164.0 602.9,163.6 603.1,162.9C603.3,162.2 603.3,160.4 603.3,159.9" stroke="#7c7c7c" stroke-width="2.0"/>
<path d="M608.7,164.8C608.2,164.3 607.2,162.6 605.9,161.8C604.5,161.0 601.5,160.2 600.7,159.9" stroke="#7c7c7c" stroke-width="2.0"/>
<path d="M611.9,165.3C611.7,164.8 611.6,163.4 610.5,162.4C609.4,161.3 606.3,159.5 605.5,158.9" stroke="#7c7c7c" stroke-width="2.0"/>
<path d="M619.6,164.5C619.3,164.2 617.8,162.9 617.4,162.4C616.9,161.9 617.0,161.7 617.0,161.6" stroke="#7c7c7c" stroke-width="2.0"/>
<path d="M624.7,162.8C624.6,161.8 624.3,158.1 623.8,157.0C623.2,155.9 621.9,156.2 621.6,156.1" stroke="#7c7c7c" stroke-width="2.0"/>
<path d="M630.9,159.7C630.3,158.9 628.0,156.2 627.5,154.9C627.1,153.6 628.2,152.4 628.4,151.8" stroke="#7c7c7c" stroke-width="2.0"/>
<path d="M634.6,157.0C634.0,156.5 631.9,154.3 630.5,153.7C629.2,153.1 627.2,153.3 626.5,153.2" stroke="#7c7c7c" stroke-width="2.0"/>
<path d="M638.7,153.6C638.3,153.3 636.5,152.1 636.2,151.6C635.9,151.1 636.6,150.8 636.7,150.6" stroke="#7c7c7c" stroke-width="2.0"/>
<path d="M641.6,150.3C641.2,150.4 640.0,150.4 639.2,150.6C638.4,150.8 637.3,151.4 637.0,151.6" stroke="#7c7c7c" stroke-width="2.0"/>
<path d="M644.1,147.1C643.6,146.7 642.0,145.7 641.4,144.6C640.9,143.6 640.8,141.7 640.7,141.1" stroke="#7c7c7c" stroke-width="2.0"/>
<path d="M646.1,142.6C645.5,142.2 643.4,141.1 642.7,140.3C642.0,139.6 642.0,138.6 641.8,138.3" stroke="#7c7c7c" stroke-width="2.0"/>
<path d="M646.5,137.2C645.8,137.1 643.3,137.3 642.4,136.3C641.6,135.3 641.7,132.1 641.5,131.3" stroke="#7c7c7c" stroke-width="2.0"/>
<path d="M646.0,129.2C645.4,129.3 643.9,130.2 642.5,129.6C641.1,129.1 638.2,126.4 637.4,125.7" stroke="#7c7c7c" stroke-width="2.0"/>
<path d="M645.3,125.3C644.7,124.6 643.4,122.3 641.9,121.3C640.4,120.2 637.2,119.3 636.3,118.9" stroke="#7c7c7c" stroke-width="2.0"/>
<path d="M646.2,119.4C645.4,119.3 642.7,120.1 641.4,119.2C640.1,118.3 638.9,114.9 638.4,114.1" stroke="#7c7c7c" stroke-width="2.0"/>
<path d="M646.6,116.1C646.2,115.9 644.8,115.3 643.9,114.9C643.1,114.4 642.1,113.6 641.7,113.4" stroke="#7c7c7c" stroke-width="2.0"/>
<path d="M645.7,110.0C645.3,110.2 644.0,110.8 643.1,111.3C642.2,111.8 640.9,112.7 640.5,112.9" stroke="#7c7c7c" stroke-width="2.0"/>
<path d="M644.7,103.9C643.9,104.1 640.8,104.6 639.7,105.4C638.5,106.2 638.3,108.2 638.0,108.7" stroke="#7c7c7c" stroke-width="2.0"/>
<path d="M640.5,93.0C639.7,93.1 637.2,93.0 635.9,93.7C634.6,94.3 633.0,96.4 632.5,97.0" stroke="#7c7c7c" stroke-width="2.0"/>
<path d="M637.4,88.7C636.8,88.7 634.9,88.4 633.4,88.8C632.0,89.3 629.6,90.9 628.8,91.3" stroke="#7c7c7c" stroke-width="2.0"/>
<path d="M633.5,83.4C633.1,83.6 631.9,84.1 630.7,84.9C629.6,85.7 627.4,87.8 626.7,88.3" stroke="#7c7c7c" stroke-width="2.0"/>
<path d="M627.1,77.2C626.6,77.5 625.6,77.7 624.4,78.9C623.2,80.1 620.5,83.5 619.7,84.4" stroke="#7c7c7c" stroke-width="2.0"/>
<path d="M622.0,72.7C621.7,73.0 621.0,73.9 620.3,74.5C619.6,75.2 618.2,76.2 617.7,76.5" stroke="#7c7c7c" stroke-width="2.0"/>
<path d="M614.8,69.0C614.5,69.5 613.5,71.2 613.1,71.9C612.6,72.6 612.2,72.9 612.0,73.1" stroke="#7c7c7c" stroke-width="2.0"/>
<path d="M610.6,67.0C610.3,67.7 609.7,69.9 608.6,71.1C607.6,72.2 605.0,73.4 604.3,73.8" stroke="#7c7c7c" stroke-width="2.0"/>
<path d="M605.0,65.6C604.7,66.1 604.5,67.6 603.1,68.3C601.8,69.0 598.0,69.5 597.0,69.7" stroke="#7c7c7c" stroke-width="2.0"/>
<path d="M599.2,64.3C599.0,65.1 597.6,67.9 597.7,69.2C597.9,70.5 599.6,71.6 600.0,72.1" stroke="#7c7c7c" stroke-width="2.0"/>
<path d="M592.4,64.1C592.4,64.6 592.3,66.5 592.6,67.5C592.9,68.4 594.1,69.4 594.4,69.8" stroke="#7c7c7c" stroke-width="2.0"/>
<path d="M587.2,64.4C586.9,64.8 585.3,65.7 585.5,66.7C585.7,67.7 587.9,69.8 588.4,70.4" stroke="#7c7c7c" stroke-width="2.0"/>
<path d="M582.7,65.9C583.0,66.4 584.5,67.6 584.7,69.2C584.9,70.7 584.0,74.2 583.8,75.2" stroke="#7c7c7c" stroke-width="2.0"/>
<path d="M565.8,104.4C566.9,105.2 569.8,108.0 572.3,109.1C574.8,110.2 579.3,110.6 580.7,110.9" stroke="#2c2c2c" stroke-width="3.6"/>
<path d="M582.6,110.9C583.9,110.5 588.0,109.5 590.4,108.3C592.8,107.2 596.0,104.7 597.1,103.9" stroke="#2c2c2c" stroke-width="3.6"/>
</g></g>
<g filter="url(#b06)"><line x1="603.1" y1="42" x2="603.1" y2="180" stroke="#18184a" stroke-width="1.5"/><line x1="497" y1="137.3" x2="667" y2="137.3" stroke="#18184a" stroke-width="1.5"/>
<line x1="603.1" y1="64" x2="603.1" y2="164" stroke="#a4a4dc" stroke-width="1.4" opacity="0.85"/><line x1="516" y1="137.3" x2="645" y2="137.3" stroke="#a4a4dc" stroke-width="1.4" opacity="0.85"/></g>
<g filter="url(#b06)"><path d="M603.4,127.5C605.1,127.4 607.0,128.6 608.5,129.4C610.0,130.3 611.7,131.2 612.4,132.6C613.2,134.1 612.6,136.1 613.1,137.8C613.5,139.6 615.3,141.5 615.0,143.0C614.7,144.5 612.4,145.9 611.1,146.9C609.8,147.9 608.5,148.9 607.2,148.8C605.9,148.7 604.7,146.5 603.4,146.2C602.1,146.0 600.8,147.9 599.5,147.5C598.2,147.2 596.6,145.7 595.6,144.3C594.6,142.9 593.9,140.8 593.7,139.1C593.4,137.4 594.4,135.6 594.3,133.9C594.2,132.3 592.4,130.1 593.0,129.4C593.7,128.8 596.5,130.4 598.2,130.1C599.9,129.7 601.6,127.6 603.4,127.5Z" fill="#f0781a"/><ellipse cx="603.4" cy="138.5" rx="8.4" ry="8" fill="#ffdf20"/><ellipse cx="603.1" cy="138.2" rx="4.4" ry="4.2" fill="#fffbe0"/></g>
</g>
<text x="568" y="176.7" textLength="70" lengthAdjust="spacingAndGlyphs" font-size="25.5" font-weight="bold" fill="#40c04c" filter="url(#b06)" font-family='"Liberation Sans", sans-serif'>y = -5</text>
</g>
<g id="brain2">
<rect x="1204.3" y="34.3" width="194" height="145.9" fill="#000"/>
<clipPath id="c2"><rect x="1204.3" y="34.3" width="194" height="145.9"/></clipPath>
<g clip-path="url(#c2)">
<path d="M1218.3,110.1C1217.7,107.2 1219.9,104.0 1221.4,100.6C1223.0,97.2 1225.1,93.2 1227.8,89.5C1230.4,85.8 1233.6,82.0 1237.3,78.4C1241.0,74.8 1245.5,71.1 1250.0,68.1C1254.5,65.1 1259.5,62.5 1264.3,60.2C1269.0,57.8 1273.5,55.7 1278.5,53.8C1283.6,52.0 1288.8,50.3 1294.4,49.1C1299.9,47.9 1306.3,47.0 1311.8,46.7C1317.4,46.4 1322.7,46.6 1327.7,47.5C1332.7,48.4 1337.5,50.1 1342.0,52.2C1346.5,54.4 1350.7,57.1 1354.7,60.2C1358.6,63.2 1362.6,66.6 1365.8,70.5C1368.9,74.3 1371.6,78.7 1373.7,83.2C1375.8,87.7 1377.2,92.9 1378.4,97.4C1379.6,101.9 1380.8,105.9 1380.8,110.1C1380.8,114.3 1379.1,119.1 1378.4,122.8C1377.8,126.5 1377.0,129.1 1376.9,132.3C1376.7,135.5 1378.7,138.9 1377.6,141.8C1376.6,144.7 1373.5,147.9 1370.5,149.8C1367.5,151.6 1363.4,152.7 1359.4,152.9C1355.4,153.2 1349.9,150.8 1346.7,151.3C1343.5,151.9 1342.2,154.3 1340.4,156.1C1338.5,158.0 1337.2,162.2 1335.6,162.4C1334.0,162.7 1332.3,159.8 1330.9,157.7C1329.4,155.6 1328.0,152.1 1326.9,149.8C1325.8,147.4 1326.0,145.3 1324.5,143.4C1323.1,141.6 1320.6,139.3 1318.2,138.7C1315.8,138.0 1312.9,138.4 1310.2,139.5C1307.6,140.5 1305.2,143.0 1302.3,145.0C1299.4,147.0 1296.2,150.2 1292.8,151.3C1289.4,152.5 1285.4,152.7 1281.7,152.1C1278.0,151.6 1274.0,149.9 1270.6,148.2C1267.2,146.5 1263.5,144.2 1261.1,141.8C1258.7,139.5 1257.4,136.3 1256.3,133.9C1255.3,131.5 1256.6,128.8 1254.7,127.6C1252.9,126.4 1248.7,127.6 1245.2,126.8C1241.8,126.0 1237.6,124.3 1234.1,122.8C1230.7,121.4 1227.3,120.2 1224.6,118.0C1222.0,115.9 1218.8,113.0 1218.3,110.1Z" fill="#e2e2e2" filter="url(#b2)"/>
<clipPath id="c2b"><path d="M1218.3,110.1C1217.7,107.2 1219.9,104.0 1221.4,100.6C1223.0,97.2 1225.1,93.2 1227.8,89.5C1230.4,85.8 1233.6,82.0 1237.3,78.4C1241.0,74.8 1245.5,71.1 1250.0,68.1C1254.5,65.1 1259.5,62.5 1264.3,60.2C1269.0,57.8 1273.5,55.7 1278.5,53.8C1283.6,52.0 1288.8,50.3 1294.4,49.1C1299.9,47.9 1306.3,47.0 1311.8,46.7C1317.4,46.4 1322.7,46.6 1327.7,47.5C1332.7,48.4 1337.5,50.1 1342.0,52.2C1346.5,54.4 1350.7,57.1 1354.7,60.2C1358.6,63.2 1362.6,66.6 1365.8,70.5C1368.9,74.3 1371.6,78.7 1373.7,83.2C1375.8,87.7 1377.2,92.9 1378.4,97.4C1379.6,101.9 1380.8,105.9 1380.8,110.1C1380.8,114.3 1379.1,119.1 1378.4,122.8C1377.8,126.5 1377.0,129.1 1376.9,132.3C1376.7,135.5 1378.7,138.9 1377.6,141.8C1376.6,144.7 1373.5,147.9 1370.5,149.8C1367.5,151.6 1363.4,152.7 1359.4,152.9C1355.4,153.2 1349.9,150.8 1346.7,151.3C1343.5,151.9 1342.2,154.3 1340.4,156.1C1338.5,158.0 1337.2,162.2 1335.6,162.4C1334.0,162.7 1332.3,159.8 1330.9,157.7C1329.4,155.6 1328.0,152.1 1326.9,149.8C1325.8,147.4 1326.0,145.3 1324.5,143.4C1323.1,141.6 1320.6,139.3 1318.2,138.7C1315.8,138.0 1312.9,138.4 1310.2,139.5C1307.6,140.5 1305.2,143.0 1302.3,145.0C1299.4,147.0 1296.2,150.2 1292.8,151.3C1289.4,152.5 1285.4,152.7 1281.7,152.1C1278.0,151.6 1274.0,149.9 1270.6,148.2C1267.2,146.5 1263.5,144.2 1261.1,141.8C1258.7,139.5 1257.4,136.3 1256.3,133.9C1255.3,131.5 1256.6,128.8 1254.7,127.6C1252.9,126.4 1248.7,127.6 1245.2,126.8C1241.8,126.0 1237.6,124.3 1234.1,122.8C1230.7,121.4 1227.3,120.2 1224.6,118.0C1222.0,115.9 1218.8,113.0 1218.3,110.1Z"/></clipPath>
<g clip-path="url(#c2b)">
<g filter="url(#b15)">
<path d="M1329.3,138.7C1332.4,135.5 1341.2,136.3 1346.7,135.5C1352.3,134.7 1357.3,134.4 1362.6,133.9C1367.9,133.4 1375.5,130.5 1378.4,132.3C1381.3,134.2 1381.6,141.3 1380.0,145.0C1378.4,148.7 1374.5,152.7 1368.9,154.5C1363.4,156.4 1352.3,154.3 1346.7,156.1C1341.2,158.0 1338.8,165.9 1335.6,165.6C1332.4,165.4 1328.7,159.0 1327.7,154.5C1326.6,150.0 1326.1,141.8 1329.3,138.7Z" fill="#8e8e8e"/>
<path d="M1346.7,130.7C1349.4,130.1 1357.3,127.8 1362.6,126.8C1367.9,125.7 1375.8,124.8 1378.4,124.4" stroke="#555" stroke-width="4" fill="none"/>
<ellipse cx="1292.8" cy="135.5" rx="31.7" ry="9.5" fill="#e4e4e4"/>
<ellipse cx="1243.6" cy="113.3" rx="20.6" ry="7.9" fill="#e6e6e6"/>
</g>
<g filter="url(#b12)" fill="none" stroke-linecap="round">
<path d="M1271.2,61.0C1271.5,60.1 1272.5,57.5 1272.8,55.8C1273.1,54.0 1273.6,52.0 1273.0,50.4C1272.5,48.8 1270.0,47.1 1269.4,46.4" stroke="#565656" stroke-width="2.7"/>
<path d="M1300.3,51.4C1300.2,52.3 1300.1,55.0 1299.8,56.8C1299.5,58.6 1298.5,60.5 1298.8,62.1C1299.1,63.7 1301.3,65.8 1301.9,66.5" stroke="#565656" stroke-width="2.7"/>
<path d="M1309.5,127.9C1310.4,127.7 1313.2,126.3 1314.8,126.6C1316.4,126.9 1317.5,129.4 1319.2,129.7C1320.8,130.1 1323.6,128.9 1324.4,128.7" stroke="#565656" stroke-width="2.7"/>
<path d="M1356.0,72.6C1356.8,72.2 1359.2,71.0 1360.9,70.3C1362.5,69.6 1364.2,68.9 1366.0,68.6C1367.7,68.3 1370.5,68.5 1371.4,68.5" stroke="#565656" stroke-width="2.7"/>
<path d="M1236.2,96.3C1236.9,95.8 1239.7,94.6 1240.6,93.2C1241.5,91.8 1241.9,89.5 1241.5,87.8C1241.1,86.2 1238.9,84.2 1238.3,83.5" stroke="#565656" stroke-width="2.7"/>
<path d="M1252.5,105.5C1251.9,106.1 1250.2,108.6 1248.7,109.3C1247.2,109.9 1245.1,109.1 1243.3,109.4C1241.5,109.6 1239.0,110.6 1238.1,110.8" stroke="#565656" stroke-width="2.7"/>
<path d="M1259.3,63.4C1259.5,62.5 1260.2,59.9 1260.7,58.2C1261.2,56.5 1261.9,54.8 1262.2,53.0C1262.4,51.2 1262.1,48.5 1262.1,47.6" stroke="#565656" stroke-width="2.7"/>
<path d="M1291.0,99.5C1291.1,98.6 1291.1,95.7 1291.7,94.1C1292.3,92.5 1294.2,91.2 1294.6,89.6C1295.1,87.9 1294.4,85.1 1294.4,84.2" stroke="#565656" stroke-width="2.7"/>
<path d="M1297.4,51.6C1298.1,51.0 1300.1,48.8 1301.7,48.3C1303.3,47.7 1305.3,48.6 1307.1,48.4C1308.8,48.1 1311.3,47.0 1312.2,46.7" stroke="#565656" stroke-width="2.7"/>
<path d="M1330.1,98.2C1330.5,99.0 1331.4,101.7 1332.4,103.1C1333.5,104.5 1335.4,105.2 1336.5,106.6C1337.7,108.0 1338.7,110.5 1339.2,111.3" stroke="#565656" stroke-width="2.7"/>
<path d="M1230.2,109.7C1231.0,109.5 1233.6,108.2 1235.3,108.2C1237.0,108.1 1238.7,109.5 1240.5,109.7C1242.3,109.8 1245.0,109.2 1245.9,109.1" stroke="#565656" stroke-width="2.7"/>
<path d="M1281.0,104.5C1281.6,103.8 1283.1,101.5 1284.4,100.2C1285.6,98.9 1287.1,97.9 1288.5,96.7C1289.8,95.5 1291.8,93.8 1292.5,93.2" stroke="#565656" stroke-width="2.7"/>
<path d="M1254.5,72.4C1255.4,72.5 1258.0,72.7 1259.8,72.8C1261.6,72.9 1263.6,73.5 1265.2,73.1C1266.9,72.7 1269.1,70.8 1269.9,70.4" stroke="#565656" stroke-width="2.7"/>
<path d="M1283.6,71.6C1284.4,71.9 1286.9,73.1 1288.7,73.3C1290.4,73.5 1292.3,73.1 1294.1,72.8C1295.8,72.5 1298.4,71.7 1299.3,71.5" stroke="#565656" stroke-width="2.7"/>
<path d="M1276.8,122.6C1276.8,121.7 1277.6,119.0 1277.3,117.2C1277.1,115.5 1276.4,113.6 1275.4,112.2C1274.4,110.8 1272.0,109.3 1271.3,108.7" stroke="#565656" stroke-width="2.7"/>
<path d="M1296.8,97.8C1296.3,97.0 1294.9,94.7 1294.0,93.2C1293.1,91.6 1292.2,90.0 1291.5,88.4C1290.8,86.7 1290.3,84.1 1290.0,83.2" stroke="#565656" stroke-width="2.7"/>
<path d="M1270.4,58.8C1271.2,58.5 1273.8,56.8 1275.4,56.9C1277.1,57.0 1278.8,58.2 1280.3,59.2C1281.7,60.2 1283.5,62.3 1284.1,63.0" stroke="#565656" stroke-width="2.7"/>
<path d="M1308.5,81.7C1308.1,82.5 1306.0,84.7 1305.7,86.3C1305.4,88.0 1306.0,90.2 1307.0,91.6C1307.9,92.9 1310.8,93.9 1311.5,94.4" stroke="#565656" stroke-width="2.7"/>
<path d="M1253.0,61.9C1252.6,61.1 1251.6,58.6 1251.0,56.9C1250.5,55.2 1250.1,53.4 1249.7,51.6C1249.4,49.9 1248.9,47.2 1248.8,46.3" stroke="#565656" stroke-width="2.7"/>
<path d="M1370.3,99.9C1371.1,99.4 1373.9,98.5 1375.1,97.3C1376.3,96.1 1377.0,94.1 1377.4,92.4C1377.8,90.7 1377.4,87.9 1377.4,87.0" stroke="#565656" stroke-width="2.7"/>
<path d="M1274.9,78.9C1275.2,78.0 1275.2,74.9 1276.2,73.6C1277.3,72.4 1279.5,72.0 1281.0,71.2C1282.6,70.4 1285.0,69.0 1285.8,68.6" stroke="#565656" stroke-width="2.7"/>
<path d="M1269.3,60.4C1269.7,59.6 1270.5,56.9 1271.5,55.5C1272.5,54.0 1274.0,52.9 1275.3,51.6C1276.6,50.3 1278.5,48.5 1279.2,47.8" stroke="#565656" stroke-width="2.7"/>
<path d="M1252.4,128.3C1251.5,128.5 1248.4,128.5 1247.2,129.5C1245.9,130.6 1245.5,132.8 1244.7,134.3C1243.8,135.9 1242.4,138.2 1241.9,139.0" stroke="#565656" stroke-width="2.7"/>
<path d="M1375.0,120.8C1375.8,120.4 1378.2,119.1 1379.6,118.0C1381.0,116.9 1382.5,115.6 1383.3,114.1C1384.2,112.6 1384.5,109.8 1384.7,108.9" stroke="#565656" stroke-width="2.7"/>
<path d="M1305.7,90.5C1306.6,90.5 1309.4,90.2 1311.1,90.6C1312.8,91.0 1314.2,92.7 1315.9,93.0C1317.6,93.4 1320.4,92.7 1321.3,92.6" stroke="#565656" stroke-width="2.7"/>
<path d="M1257.8,81.9C1258.4,81.3 1260.0,78.9 1261.4,77.9C1262.8,76.8 1264.6,75.6 1266.3,75.6C1267.9,75.6 1270.3,77.5 1271.1,77.9" stroke="#565656" stroke-width="2.7"/>
<path d="M1345.2,88.0C1346.0,88.3 1348.5,89.4 1350.2,89.9C1351.9,90.5 1354.1,90.4 1355.3,91.4C1356.6,92.5 1357.5,95.4 1358.0,96.2" stroke="#565656" stroke-width="2.7"/>
<path d="M1376.5,128.5C1376.1,129.3 1374.8,131.7 1373.9,133.3C1373.1,134.9 1372.1,136.4 1371.6,138.1C1371.1,139.8 1370.9,142.6 1370.8,143.5" stroke="#565656" stroke-width="2.7"/>
<path d="M1296.4,131.1C1297.3,131.2 1300.1,131.2 1301.7,132.0C1303.3,132.7 1304.2,134.9 1305.8,135.4C1307.4,136.0 1310.3,135.2 1311.2,135.2" stroke="#565656" stroke-width="2.7"/>
<path d="M1324.6,124.7C1325.3,124.2 1327.2,122.0 1328.8,121.3C1330.3,120.6 1332.4,120.9 1334.1,120.4C1335.8,119.8 1338.1,118.3 1338.9,117.9" stroke="#565656" stroke-width="2.7"/>
<path d="M1346.9,129.9C1346.0,129.7 1343.4,128.2 1341.7,128.3C1340.1,128.4 1338.1,129.4 1336.8,130.5C1335.6,131.7 1334.6,134.4 1334.1,135.2" stroke="#565656" stroke-width="2.7"/>
<path d="M1377.3,50.6C1377.1,51.5 1376.9,54.3 1376.1,55.8C1375.2,57.3 1373.7,59.0 1372.1,59.5C1370.6,60.0 1367.7,59.0 1366.8,58.8" stroke="#565656" stroke-width="2.7"/>
<path d="M1324.1,77.7C1324.9,77.3 1327.2,75.8 1329.0,75.4C1330.7,75.0 1332.8,75.9 1334.3,75.2C1335.9,74.6 1337.6,72.1 1338.3,71.5" stroke="#565656" stroke-width="2.7"/>
<path d="M1338.7,60.0C1339.3,59.3 1341.4,57.4 1342.2,55.9C1343.1,54.3 1343.5,52.4 1343.6,50.7C1343.8,48.9 1343.2,46.2 1343.1,45.3" stroke="#565656" stroke-width="2.7"/>
<path d="M1258.0,97.6C1258.7,97.0 1261.4,95.7 1262.3,94.2C1263.1,92.8 1262.3,90.5 1262.9,88.9C1263.5,87.2 1265.2,85.1 1265.7,84.3" stroke="#565656" stroke-width="2.7"/>
<path d="M1362.2,104.0C1361.3,104.0 1358.4,103.4 1356.8,103.9C1355.2,104.5 1353.5,105.9 1352.6,107.3C1351.6,108.7 1351.3,111.6 1351.1,112.4" stroke="#565656" stroke-width="2.7"/>
<path d="M1300.8,121.6C1301.7,121.6 1304.6,122.1 1306.2,121.5C1307.8,121.0 1309.5,119.7 1310.5,118.3C1311.5,116.9 1311.8,114.0 1312.0,113.1" stroke="#565656" stroke-width="2.7"/>
<path d="M1318.0,58.4C1318.4,57.6 1319.6,55.1 1320.5,53.6C1321.3,52.0 1322.1,50.2 1323.3,49.0C1324.6,47.8 1327.3,46.9 1328.1,46.5" stroke="#565656" stroke-width="2.7"/>
<path d="M1236.7,95.4C1236.6,94.5 1236.9,91.5 1236.1,90.0C1235.4,88.5 1233.6,87.5 1232.2,86.3C1230.8,85.2 1228.6,83.6 1227.9,83.0" stroke="#565656" stroke-width="2.7"/>
<path d="M1224.3,123.4C1225.2,123.5 1227.9,123.6 1229.7,123.8C1231.4,123.9 1233.2,124.0 1235.0,124.2C1236.8,124.4 1239.5,124.7 1240.4,124.7" stroke="#565656" stroke-width="2.7"/>
<path d="M1329.7,86.3C1329.5,87.2 1329.1,89.8 1328.7,91.6C1328.4,93.4 1328.4,95.4 1327.5,96.9C1326.6,98.3 1324.0,99.6 1323.3,100.2" stroke="#565656" stroke-width="2.7"/>
<path d="M1367.0,125.8C1367.8,125.4 1370.5,124.3 1371.6,123.0C1372.7,121.7 1372.9,119.7 1373.4,117.9C1373.9,116.2 1374.4,113.6 1374.7,112.7" stroke="#565656" stroke-width="2.7"/>
<path d="M1231.4,68.5C1231.3,67.6 1231.9,64.7 1231.3,63.1C1230.7,61.5 1228.6,60.5 1227.8,59.0C1227.1,57.4 1227.0,54.6 1226.8,53.7" stroke="#565656" stroke-width="2.7"/>
<path d="M1368.8,102.4C1369.4,101.7 1370.8,98.9 1372.2,98.1C1373.7,97.4 1375.9,98.4 1377.6,97.8C1379.3,97.3 1381.4,95.5 1382.2,95.0" stroke="#565656" stroke-width="2.7"/>
<path d="M1370.9,81.7C1370.4,82.5 1368.3,84.4 1367.6,86.0C1366.9,87.6 1367.3,89.7 1366.7,91.3C1366.1,93.0 1364.4,95.2 1364.0,96.0" stroke="#565656" stroke-width="2.7"/>
<path d="M1377.5,82.2C1377.4,83.1 1377.6,85.9 1377.2,87.6C1376.7,89.3 1374.8,90.8 1374.8,92.4C1374.7,94.1 1376.6,96.6 1376.9,97.4" stroke="#565656" stroke-width="2.7"/>
<path d="M1307.7,85.3C1308.2,84.5 1309.8,82.3 1310.3,80.6C1310.9,78.9 1310.2,76.6 1311.1,75.2C1312.0,73.8 1314.8,72.7 1315.6,72.2" stroke="#565656" stroke-width="2.7"/>
<path d="M1237.8,125.5C1238.5,125.0 1241.1,123.9 1242.4,122.8C1243.7,121.6 1245.2,120.0 1245.5,118.4C1245.9,116.8 1244.6,114.0 1244.4,113.1" stroke="#565656" stroke-width="2.7"/>
<path d="M1343.4,71.0C1344.3,71.3 1347.0,71.8 1348.6,72.5C1350.2,73.3 1352.1,74.2 1353.0,75.6C1353.9,77.0 1353.8,80.0 1353.9,80.9" stroke="#565656" stroke-width="2.7"/>
<path d="M1284.2,93.4C1284.2,94.3 1283.4,97.2 1284.0,98.8C1284.5,100.3 1286.7,101.2 1287.6,102.7C1288.6,104.2 1289.4,106.8 1289.8,107.7" stroke="#565656" stroke-width="2.7"/>
<path d="M1287.3,54.4C1288.1,54.1 1291.1,53.6 1292.4,52.5C1293.6,51.4 1293.6,48.9 1294.8,47.7C1296.0,46.5 1298.9,45.7 1299.7,45.3" stroke="#565656" stroke-width="2.7"/>
<path d="M1230.4,120.8C1229.6,121.2 1227.1,122.2 1225.6,123.1C1224.0,124.0 1222.7,125.7 1221.1,126.1C1219.4,126.5 1216.6,125.4 1215.7,125.3" stroke="#565656" stroke-width="2.7"/>
<path d="M1318.4,51.9C1319.2,52.4 1321.3,54.3 1322.9,54.9C1324.5,55.6 1326.5,56.0 1328.2,55.8C1329.9,55.6 1332.4,54.0 1333.2,53.7" stroke="#565656" stroke-width="2.7"/>
<path d="M1367.7,101.1C1368.3,100.5 1370.7,98.9 1371.6,97.4C1372.4,95.9 1372.6,93.9 1372.8,92.1C1372.9,90.3 1372.5,87.6 1372.5,86.7" stroke="#565656" stroke-width="2.7"/>
<path d="M1222.7,69.3C1222.9,68.4 1222.8,65.4 1223.8,64.0C1224.7,62.7 1226.9,62.2 1228.5,61.4C1230.1,60.5 1232.4,59.3 1233.2,58.8" stroke="#565656" stroke-width="2.7"/>
<path d="M1258.8,85.8C1258.2,86.4 1256.4,88.8 1254.8,89.5C1253.2,90.1 1250.9,90.3 1249.4,89.6C1247.9,89.0 1246.3,86.4 1245.7,85.7" stroke="#565656" stroke-width="2.7"/>
<path d="M1268.7,66.4C1269.6,66.2 1272.3,65.6 1274.0,65.7C1275.8,65.8 1277.6,66.3 1279.2,67.0C1280.9,67.6 1283.2,69.1 1284.0,69.5" stroke="#565656" stroke-width="2.7"/>
<path d="M1284.0,77.5C1284.0,76.6 1283.7,73.9 1283.9,72.1C1284.0,70.3 1284.0,68.3 1284.9,66.8C1285.7,65.3 1288.3,63.9 1289.0,63.3" stroke="#565656" stroke-width="2.7"/>
<path d="M1288.2,52.9C1287.3,53.2 1284.6,53.8 1283.1,54.7C1281.6,55.6 1280.1,56.9 1279.1,58.3C1278.1,59.8 1277.4,62.5 1277.1,63.3" stroke="#565656" stroke-width="2.7"/>
<path d="M1266.3,86.9C1266.2,86.0 1266.2,83.3 1265.8,81.5C1265.3,79.8 1264.8,78.0 1263.9,76.5C1263.0,74.9 1261.1,72.9 1260.6,72.2" stroke="#565656" stroke-width="2.7"/>
<path d="M1376.0,75.5C1376.6,74.7 1378.3,72.6 1379.1,71.0C1379.9,69.4 1381.1,67.5 1380.9,65.9C1380.7,64.3 1378.5,62.1 1378.1,61.4" stroke="#565656" stroke-width="2.7"/>
<path d="M1280.4,88.2C1281.2,87.9 1284.2,87.6 1285.5,86.5C1286.8,85.5 1287.0,83.1 1288.2,81.9C1289.5,80.7 1292.3,79.9 1293.1,79.5" stroke="#565656" stroke-width="2.7"/>
<path d="M1242.7,97.6C1242.8,98.5 1242.6,101.3 1243.2,103.0C1243.8,104.6 1245.3,105.9 1246.2,107.4C1247.1,109.0 1248.1,111.5 1248.5,112.3" stroke="#565656" stroke-width="2.7"/>
<path d="M1303.8,111.4C1302.9,111.6 1300.4,112.5 1298.7,113.1C1297.0,113.7 1295.1,114.0 1293.6,114.9C1292.1,115.8 1290.3,117.9 1289.6,118.5" stroke="#565656" stroke-width="2.7"/>
<path d="M1318.0,60.4C1317.1,60.6 1314.2,60.6 1312.7,61.5C1311.2,62.3 1310.3,64.2 1309.1,65.5C1307.9,66.8 1306.0,68.7 1305.3,69.4" stroke="#565656" stroke-width="2.7"/>
<path d="M1299.8,118.4C1300.6,117.9 1302.7,115.8 1304.3,115.5C1306.0,115.1 1308.0,115.6 1309.7,116.1C1311.4,116.6 1313.7,118.0 1314.5,118.4" stroke="#565656" stroke-width="2.7"/>
<path d="M1329.8,67.6C1330.2,66.8 1330.9,63.8 1332.2,62.7C1333.4,61.7 1335.7,61.9 1337.3,61.2C1339.0,60.5 1341.2,59.0 1342.0,58.5" stroke="#565656" stroke-width="2.7"/>
<path d="M1291.4,52.5C1292.2,52.1 1294.5,50.6 1296.0,49.6C1297.5,48.6 1299.6,48.0 1300.4,46.6C1301.3,45.2 1300.8,42.1 1300.9,41.2" stroke="#565656" stroke-width="2.7"/>
<path d="M1346.4,111.2C1346.3,110.3 1345.7,107.5 1345.9,105.8C1346.1,104.0 1347.5,102.5 1347.7,100.7C1347.9,99.0 1347.3,96.2 1347.2,95.3" stroke="#565656" stroke-width="2.7"/>
<path d="M1231.7,70.6C1232.4,70.1 1234.8,68.8 1236.3,67.8C1237.8,66.8 1239.0,65.2 1240.7,64.7C1242.3,64.2 1245.2,64.7 1246.1,64.7" stroke="#565656" stroke-width="2.7"/>
<path d="M1232.0,124.8C1231.2,124.6 1228.5,124.1 1226.8,123.4C1225.2,122.7 1223.8,120.9 1222.2,120.7C1220.5,120.4 1217.8,121.7 1216.9,121.9" stroke="#565656" stroke-width="2.7"/>
<path d="M1243.2,69.6C1243.0,68.8 1242.2,66.2 1241.7,64.5C1241.1,62.7 1240.6,61.0 1240.0,59.3C1239.4,57.6 1238.4,55.1 1238.1,54.3" stroke="#565656" stroke-width="2.7"/>
<path d="M1374.1,56.6C1374.7,56.0 1376.5,54.0 1377.7,52.6C1378.9,51.3 1380.2,50.1 1381.4,48.7C1382.6,47.4 1384.3,45.3 1384.9,44.6" stroke="#565656" stroke-width="2.7"/>
<path d="M1293.8,58.2C1293.9,57.3 1294.1,54.6 1294.2,52.9C1294.3,51.1 1294.6,49.2 1294.4,47.5C1294.1,45.7 1292.8,43.2 1292.5,42.4" stroke="#565656" stroke-width="2.7"/>
<path d="M1232.0,90.9C1231.3,91.5 1229.6,93.9 1228.0,94.5C1226.5,95.1 1224.2,95.2 1222.6,94.5C1221.1,93.9 1219.4,91.4 1218.8,90.8" stroke="#565656" stroke-width="2.7"/>
<path d="M1231.7,55.9C1231.7,55.0 1231.1,52.1 1231.5,50.5C1232.0,48.8 1233.4,47.4 1234.3,45.9C1235.3,44.3 1236.7,42.1 1237.2,41.3" stroke="#565656" stroke-width="2.7"/>
<path d="M1360.5,107.4C1361.4,107.5 1364.1,107.8 1365.9,107.8C1367.7,107.8 1369.7,107.9 1371.2,107.2C1372.8,106.5 1374.6,104.2 1375.2,103.6" stroke="#565656" stroke-width="2.7"/>
<path d="M1370.5,105.6C1370.7,106.4 1370.9,109.2 1371.4,110.9C1372.0,112.6 1372.8,114.3 1373.8,115.7C1374.9,117.1 1377.0,118.9 1377.6,119.5" stroke="#565656" stroke-width="2.7"/>
<path d="M1353.1,48.4C1353.0,47.5 1351.9,44.7 1352.3,43.1C1352.7,41.5 1354.2,39.9 1355.5,38.7C1356.8,37.5 1359.3,36.3 1360.1,35.8" stroke="#565656" stroke-width="2.7"/>
<path d="M1362.8,72.6C1362.6,71.8 1361.3,69.1 1361.4,67.4C1361.5,65.7 1363.4,64.1 1363.4,62.5C1363.4,60.8 1361.8,58.3 1361.5,57.4" stroke="#565656" stroke-width="2.7"/>
<path d="M1366.6,111.8C1366.2,111.0 1364.9,108.6 1364.5,106.8C1364.0,105.1 1363.8,103.3 1363.8,101.5C1363.8,99.7 1364.4,97.0 1364.5,96.1" stroke="#565656" stroke-width="2.7"/>
<path d="M1243.5,129.9C1242.8,130.4 1240.5,131.9 1239.2,133.2C1237.9,134.4 1237.2,136.6 1235.8,137.3C1234.3,138.1 1231.3,137.6 1230.4,137.6" stroke="#565656" stroke-width="2.7"/>
<path d="M1360.1,116.5C1359.2,116.4 1356.5,115.9 1354.8,115.5C1353.0,115.1 1351.2,114.9 1349.6,114.1C1348.0,113.3 1346.1,111.3 1345.3,110.8" stroke="#565656" stroke-width="2.7"/>
<path d="M1227.7,109.8C1227.6,110.7 1228.0,113.6 1227.3,115.2C1226.7,116.8 1224.9,117.9 1223.7,119.2C1222.5,120.5 1220.8,122.6 1220.2,123.3" stroke="#565656" stroke-width="2.7"/>
<path d="M1364.5,94.5C1365.0,93.8 1367.0,91.8 1367.8,90.3C1368.6,88.7 1368.5,86.7 1369.4,85.1C1370.3,83.6 1372.4,81.8 1373.0,81.1" stroke="#565656" stroke-width="2.7"/>
<path d="M1374.7,70.1C1375.4,69.6 1377.6,68.1 1379.0,66.8C1380.3,65.6 1381.8,64.4 1382.5,62.8C1383.2,61.2 1383.1,58.4 1383.2,57.5" stroke="#565656" stroke-width="2.7"/>
<path d="M1245.5,65.7C1245.0,66.5 1243.3,68.6 1242.5,70.2C1241.8,71.9 1241.9,73.9 1241.0,75.4C1240.1,76.9 1237.9,78.7 1237.3,79.4" stroke="#565656" stroke-width="2.7"/>
<path d="M1287.6,94.3C1288.0,93.5 1289.5,90.9 1289.5,89.3C1289.5,87.6 1288.6,85.7 1287.5,84.3C1286.5,82.8 1284.2,81.3 1283.5,80.7" stroke="#565656" stroke-width="2.7"/>
<path d="M1260.8,96.1C1261.3,95.4 1263.0,93.3 1263.9,91.7C1264.8,90.2 1265.5,88.5 1266.3,86.9C1267.1,85.3 1268.5,83.0 1268.9,82.2" stroke="#565656" stroke-width="2.7"/>
<path d="M1279.6,76.7C1280.2,76.0 1282.1,74.1 1283.1,72.6C1284.1,71.1 1284.4,69.2 1285.5,67.7C1286.5,66.3 1288.6,64.6 1289.3,63.9" stroke="#565656" stroke-width="2.7"/>
<path d="M1303.8,114.7C1304.7,114.5 1307.4,114.1 1309.1,113.6C1310.8,113.0 1312.3,111.9 1314.0,111.4C1315.7,110.9 1318.4,110.7 1319.3,110.5" stroke="#565656" stroke-width="2.7"/>
<path d="M1288.3,74.5C1288.5,73.6 1288.4,70.8 1289.1,69.2C1289.7,67.5 1290.8,65.8 1292.2,64.7C1293.5,63.7 1296.3,63.0 1297.1,62.6" stroke="#565656" stroke-width="2.7"/>
<path d="M1373.4,89.4C1374.3,89.2 1376.8,87.8 1378.5,87.8C1380.2,87.7 1382.3,88.2 1383.7,89.2C1385.1,90.1 1386.5,92.7 1387.0,93.4" stroke="#565656" stroke-width="2.7"/>
<path d="M1374.0,69.2C1373.8,68.3 1372.3,65.6 1372.6,64.0C1372.8,62.3 1375.1,61.1 1375.5,59.4C1375.9,57.8 1374.9,55.0 1374.8,54.1" stroke="#565656" stroke-width="2.7"/>
<path d="M1350.7,107.2C1350.1,107.8 1347.4,109.4 1346.9,111.0C1346.3,112.5 1346.7,114.8 1347.4,116.3C1348.2,117.9 1350.6,119.5 1351.2,120.2" stroke="#565656" stroke-width="2.7"/>
<path d="M1310.2,51.4C1310.8,50.9 1312.9,49.1 1314.3,47.9C1315.7,46.8 1317.2,45.8 1318.6,44.7C1319.9,43.5 1321.8,41.6 1322.4,40.9" stroke="#565656" stroke-width="2.7"/>
<path d="M1341.0,56.6C1341.4,55.8 1342.7,53.4 1343.3,51.8C1343.9,50.1 1344.6,48.3 1344.6,46.5C1344.5,44.8 1343.4,42.2 1343.2,41.3" stroke="#565656" stroke-width="2.7"/>
<path d="M1315.2,49.2C1315.4,48.3 1316.4,45.7 1316.6,44.0C1316.8,42.2 1315.9,40.2 1316.3,38.6C1316.7,36.9 1318.6,34.7 1319.1,34.0" stroke="#565656" stroke-width="2.7"/>
<path d="M1258.3,92.5C1258.7,91.7 1259.6,89.1 1260.6,87.6C1261.5,86.1 1263.6,85.1 1264.1,83.5C1264.6,81.9 1263.6,79.0 1263.5,78.1" stroke="#565656" stroke-width="2.7"/>
<path d="M1250.6,122.6C1250.8,123.5 1251.2,126.2 1251.7,127.9C1252.2,129.7 1252.7,131.4 1253.4,133.0C1254.2,134.6 1255.9,136.8 1256.3,137.6" stroke="#565656" stroke-width="2.7"/>
<path d="M1298.0,106.8C1297.7,107.6 1296.1,110.2 1296.3,111.9C1296.4,113.5 1297.9,115.1 1299.1,116.4C1300.3,117.7 1302.7,119.1 1303.4,119.7" stroke="#565656" stroke-width="2.7"/>
<path d="M1353.9,53.9C1353.3,54.6 1352.0,57.2 1350.5,58.2C1349.1,59.2 1346.9,59.0 1345.4,59.9C1344.0,60.9 1342.4,63.2 1341.7,63.8" stroke="#565656" stroke-width="2.7"/>
<path d="M1255.0,112.2C1255.1,111.3 1255.4,108.6 1255.9,106.9C1256.4,105.2 1256.8,103.1 1257.9,101.9C1259.1,100.6 1261.9,99.8 1262.7,99.4" stroke="#565656" stroke-width="2.7"/>
<path d="M1296.8,124.8C1297.6,124.4 1300.1,123.3 1301.6,122.4C1303.1,121.4 1304.8,120.4 1305.9,119.1C1306.9,117.7 1307.6,114.9 1307.9,114.1" stroke="#565656" stroke-width="2.7"/>
<path d="M1374.3,60.2C1374.5,59.3 1375.0,56.7 1375.2,54.9C1375.5,53.1 1375.2,51.2 1375.7,49.5C1376.1,47.8 1377.7,45.5 1378.1,44.7" stroke="#565656" stroke-width="2.7"/>
<path d="M1269.7,57.8C1270.2,57.0 1272.2,55.0 1272.8,53.4C1273.3,51.7 1272.3,49.5 1273.0,48.0C1273.7,46.5 1276.3,44.9 1277.0,44.3" stroke="#565656" stroke-width="2.7"/>
<path d="M1338.2,51.0C1337.3,50.8 1334.7,50.1 1332.9,49.9C1331.2,49.6 1329.2,48.9 1327.6,49.3C1325.9,49.8 1323.9,51.9 1323.1,52.4" stroke="#565656" stroke-width="2.7"/>
<path d="M1232.3,55.1C1232.0,55.9 1231.7,59.0 1230.6,60.2C1229.5,61.4 1227.0,61.3 1225.7,62.4C1224.3,63.5 1223.0,66.0 1222.5,66.7" stroke="#565656" stroke-width="2.7"/>
<path d="M1276.4,117.3C1275.9,118.0 1273.7,120.0 1273.1,121.6C1272.4,123.1 1272.7,125.1 1272.4,126.9C1272.1,128.7 1271.5,131.3 1271.4,132.2" stroke="#565656" stroke-width="2.7"/>
<path d="M1290.6,75.4C1290.6,76.3 1290.8,79.2 1290.1,80.8C1289.5,82.4 1288.2,84.0 1286.9,85.1C1285.5,86.2 1282.8,87.0 1282.0,87.4" stroke="#565656" stroke-width="2.7"/>
<path d="M1226.3,51.2C1226.3,50.3 1226.9,47.5 1226.4,45.8C1226.0,44.1 1225.1,42.2 1223.7,41.1C1222.4,40.1 1219.4,40.0 1218.5,39.8" stroke="#565656" stroke-width="2.7"/>
<path d="M1315.9,78.8C1316.6,78.2 1318.9,76.6 1319.9,75.2C1321.0,73.8 1321.1,71.7 1322.1,70.3C1323.1,68.8 1325.4,67.2 1326.0,66.6" stroke="#565656" stroke-width="2.7"/>
<path d="M1270.0,71.4C1270.8,70.9 1272.7,68.8 1274.3,68.2C1275.9,67.5 1278.1,67.1 1279.7,67.6C1281.3,68.1 1283.1,70.5 1283.8,71.1" stroke="#565656" stroke-width="2.7"/>
<path d="M1230.2,117.7C1231.1,117.5 1233.9,116.3 1235.5,116.6C1237.1,117.0 1238.3,118.9 1239.9,119.8C1241.4,120.7 1244.0,121.6 1244.8,121.9" stroke="#565656" stroke-width="2.7"/>
<path d="M1259.7,84.4C1259.4,85.3 1257.7,87.9 1257.9,89.5C1258.1,91.1 1260.5,92.5 1260.8,94.1C1261.0,95.7 1259.8,98.5 1259.6,99.4" stroke="#565656" stroke-width="2.7"/>
<path d="M1268.0,106.4C1268.6,105.8 1270.6,104.0 1271.6,102.5C1272.6,101.0 1273.3,99.3 1273.8,97.6C1274.3,95.9 1274.6,93.1 1274.8,92.3" stroke="#565656" stroke-width="2.7"/>
<path d="M1343.9,54.9C1344.1,54.0 1345.0,51.5 1345.4,49.7C1345.7,48.0 1345.5,46.1 1345.9,44.4C1346.3,42.6 1347.6,40.2 1347.9,39.3" stroke="#565656" stroke-width="2.7"/>
<path d="M1296.2,94.0C1297.0,94.5 1300.0,95.2 1301.0,96.5C1302.0,97.8 1301.5,100.2 1302.2,101.8C1302.9,103.4 1304.9,105.4 1305.4,106.1" stroke="#565656" stroke-width="2.7"/>
<path d="M1233.2,56.4C1232.3,56.1 1229.8,54.8 1228.0,54.8C1226.3,54.8 1224.3,55.3 1222.9,56.3C1221.5,57.3 1220.3,60.0 1219.7,60.7" stroke="#565656" stroke-width="2.7"/>
<path d="M1293.0,123.2C1293.7,123.7 1296.0,125.2 1297.2,126.5C1298.4,127.8 1298.8,130.0 1300.2,131.0C1301.6,132.0 1304.5,132.3 1305.4,132.5" stroke="#565656" stroke-width="2.7"/>
<path d="M1219.2,107.4C1219.8,107.5 1222.0,108.5 1223.1,108.0C1224.2,107.5 1225.3,104.9 1225.7,104.3" stroke="#4c4c4c" stroke-width="2.8"/>
<path d="M1226.0,92.5C1226.9,92.5 1230.0,92.2 1231.0,92.1C1232.0,91.9 1232.0,91.7 1232.1,91.7" stroke="#4c4c4c" stroke-width="2.8"/>
<path d="M1233.0,83.4C1233.9,83.4 1237.3,83.0 1238.8,83.1C1240.2,83.2 1241.2,83.9 1241.7,84.1" stroke="#4c4c4c" stroke-width="2.8"/>
<path d="M1238.2,77.7C1238.6,77.8 1240.0,77.8 1240.6,78.7C1241.3,79.7 1241.8,82.5 1242.1,83.2" stroke="#4c4c4c" stroke-width="2.8"/>
<path d="M1258.0,63.7C1258.5,64.3 1261.0,66.2 1261.0,67.7C1261.1,69.1 1258.7,71.5 1258.2,72.3" stroke="#4c4c4c" stroke-width="2.8"/>
<path d="M1274.3,55.7C1274.1,56.0 1273.3,56.4 1272.9,57.3C1272.5,58.2 1272.1,60.4 1271.9,61.1" stroke="#4c4c4c" stroke-width="2.8"/>
<path d="M1285.5,51.7C1285.7,52.2 1286.4,53.5 1286.9,54.7C1287.4,55.9 1288.3,58.3 1288.6,59.1" stroke="#4c4c4c" stroke-width="2.8"/>
<path d="M1305.3,47.6C1305.3,48.7 1305.8,52.7 1305.0,54.5C1304.2,56.3 1301.1,57.6 1300.3,58.2" stroke="#4c4c4c" stroke-width="2.8"/>
<path d="M1320.9,47.1C1320.2,47.8 1318.0,50.6 1317.0,51.2C1315.9,51.7 1315.1,50.6 1314.7,50.5" stroke="#4c4c4c" stroke-width="2.8"/>
<path d="M1332.3,49.0C1332.4,49.7 1332.8,52.6 1332.9,53.3C1333.0,54.1 1333.0,53.3 1333.0,53.3" stroke="#4c4c4c" stroke-width="2.8"/>
<path d="M1344.1,53.6C1344.1,54.3 1344.0,57.1 1344.1,58.2C1344.3,59.2 1345.0,59.4 1345.1,59.6" stroke="#4c4c4c" stroke-width="2.8"/>
<path d="M1352.8,59.0C1352.6,59.6 1352.2,62.4 1351.2,62.4C1350.2,62.3 1347.4,59.3 1346.7,58.7" stroke="#4c4c4c" stroke-width="2.8"/>
<path d="M1366.1,71.0C1365.4,71.4 1362.6,72.3 1361.9,73.4C1361.2,74.5 1362.0,76.8 1362.0,77.5" stroke="#4c4c4c" stroke-width="2.8"/>
<path d="M1372.8,81.8C1372.2,82.8 1370.3,86.0 1368.8,87.4C1367.2,88.9 1364.5,89.9 1363.7,90.3" stroke="#4c4c4c" stroke-width="2.8"/>
<path d="M1378.7,98.8C1378.0,98.9 1376.1,99.8 1374.6,99.3C1373.2,98.7 1370.7,96.1 1369.9,95.5" stroke="#4c4c4c" stroke-width="2.8"/>
<path d="M1380.5,111.6C1379.6,111.5 1376.3,110.9 1374.9,110.9C1373.5,110.9 1372.7,111.4 1372.2,111.5" stroke="#4c4c4c" stroke-width="2.8"/>
<path d="M1378.2,124.0C1377.7,123.9 1376.3,123.2 1375.1,123.5C1373.9,123.7 1371.7,125.3 1371.1,125.6" stroke="#4c4c4c" stroke-width="2.8"/>
<path d="M1250.6,127.2C1251.0,126.8 1251.4,126.0 1252.9,124.9C1254.4,123.8 1258.6,121.3 1259.8,120.6" stroke="#4c4c4c" stroke-width="2.8"/>
<path d="M1241.4,125.4C1241.7,125.4 1242.3,125.6 1243.3,125.2C1244.4,124.9 1246.8,123.5 1247.5,123.1" stroke="#4c4c4c" stroke-width="2.8"/>
<path d="M1230.3,120.9C1231.1,120.8 1233.5,121.1 1234.7,120.2C1235.9,119.3 1237.2,116.2 1237.7,115.4" stroke="#4c4c4c" stroke-width="2.8"/>
<path d="M1220.6,113.1C1221.0,113.0 1222.0,112.9 1223.1,113.0C1224.3,113.0 1226.9,113.4 1227.7,113.5" stroke="#4c4c4c" stroke-width="2.8"/>
<path d="M1288.6,139.5C1287.4,139.3 1283.9,138.5 1281.6,138.4C1279.2,138.3 1276.8,139.1 1274.5,139.1C1272.1,139.0 1268.6,138.2 1267.4,138.0" stroke="#606060" stroke-width="2.6"/>
<path d="M1290.3,140.9C1291.3,140.4 1294.7,139.0 1296.5,137.5C1298.4,136.1 1299.6,133.8 1301.4,132.3C1303.2,130.7 1306.3,129.0 1307.3,128.3" stroke="#606060" stroke-width="2.6"/>
<path d="M1305.8,125.5C1304.7,125.2 1301.2,124.2 1299.0,123.4C1296.8,122.6 1294.7,121.3 1292.4,120.7C1290.1,120.1 1286.5,120.0 1285.3,119.8" stroke="#606060" stroke-width="2.6"/>
<path d="M1257.4,138.6C1258.6,138.5 1262.1,138.2 1264.5,138.1C1266.9,138.0 1269.3,137.9 1271.7,138.1C1274.0,138.4 1277.4,139.5 1278.6,139.7" stroke="#606060" stroke-width="2.6"/>
<path d="M1279.6,140.3C1280.8,140.3 1284.4,140.4 1286.7,140.5C1289.1,140.5 1291.5,140.4 1293.9,140.7C1296.2,140.9 1299.8,141.6 1300.9,141.7" stroke="#606060" stroke-width="2.6"/>
<path d="M1289.0,131.9C1290.1,131.7 1293.7,131.6 1296.0,131.0C1298.4,130.5 1300.6,129.6 1302.8,128.6C1304.9,127.7 1308.0,125.7 1309.0,125.2" stroke="#606060" stroke-width="2.6"/>
<path d="M1261.3,145.0C1260.3,145.6 1256.9,147.0 1255.1,148.5C1253.3,150.0 1251.6,151.8 1250.4,153.9C1249.2,155.9 1248.4,159.5 1248.1,160.6" stroke="#606060" stroke-width="2.6"/>
<path d="M1305.2,130.1C1306.4,130.5 1309.8,131.5 1312.1,132.0C1314.4,132.6 1316.8,133.3 1319.1,133.3C1321.4,133.4 1325.0,132.4 1326.2,132.2" stroke="#606060" stroke-width="2.6"/>
<path d="M1301.2,145.4C1300.1,145.8 1296.5,146.6 1294.5,147.8C1292.6,149.0 1291.0,151.0 1289.3,152.6C1287.6,154.3 1285.2,156.9 1284.4,157.8" stroke="#606060" stroke-width="2.6"/>
<path d="M1322.2,128.0C1323.3,127.5 1326.5,126.1 1328.7,125.1C1330.9,124.1 1333.0,122.9 1335.2,122.1C1337.4,121.3 1340.9,120.4 1342.0,120.1" stroke="#606060" stroke-width="2.6"/>
<path d="M1269.8,138.1C1270.9,137.8 1274.4,137.1 1276.7,136.4C1279.0,135.7 1281.2,134.4 1283.5,134.1C1285.8,133.8 1289.4,134.5 1290.6,134.6" stroke="#606060" stroke-width="2.6"/>
<path d="M1256.4,147.7C1255.2,147.9 1251.6,148.3 1249.4,149.0C1247.1,149.7 1245.2,151.5 1242.9,152.0C1240.6,152.6 1236.9,152.3 1235.8,152.3" stroke="#606060" stroke-width="2.6"/>
<path d="M1299.3,139.9C1300.5,139.9 1304.1,140.0 1306.4,139.7C1308.8,139.4 1311.0,138.4 1313.4,138.1C1315.7,137.8 1319.3,138.0 1320.5,138.0" stroke="#606060" stroke-width="2.6"/>
<path d="M1279.8,132.4C1280.8,131.7 1283.7,129.6 1285.7,128.4C1287.8,127.2 1290.2,126.6 1292.1,125.1C1293.9,123.7 1295.9,120.6 1296.7,119.7" stroke="#606060" stroke-width="2.6"/>
<path d="M1282.6,141.2C1283.8,141.4 1287.3,141.9 1289.7,142.3C1292.0,142.8 1294.4,143.0 1296.6,143.9C1298.8,144.7 1301.8,146.8 1302.9,147.4" stroke="#606060" stroke-width="2.6"/>
<path d="M1269.4,128.5C1270.6,128.4 1274.2,128.3 1276.5,127.8C1278.8,127.2 1280.9,125.9 1283.2,125.3C1285.4,124.7 1289.0,124.3 1290.2,124.1" stroke="#606060" stroke-width="2.6"/>
<path d="M1323.4,129.7C1322.3,129.4 1318.8,128.6 1316.5,128.2C1314.1,127.8 1311.8,127.1 1309.4,127.1C1307.1,127.2 1303.5,128.1 1302.4,128.3" stroke="#606060" stroke-width="2.6"/>
<path d="M1259.1,150.3C1260.3,150.3 1263.9,150.2 1266.2,150.0C1268.6,149.9 1271.0,149.2 1273.3,149.3C1275.7,149.4 1279.1,150.6 1280.3,150.8" stroke="#606060" stroke-width="2.6"/>
<path d="M1291.4,138.4C1292.5,138.0 1295.8,136.7 1298.1,136.0C1300.4,135.4 1302.7,134.9 1305.1,134.5C1307.4,134.1 1311.0,133.7 1312.1,133.6" stroke="#606060" stroke-width="2.6"/>
<path d="M1261.6,130.1C1262.8,129.8 1266.2,128.8 1268.4,128.0C1270.7,127.3 1273.0,126.5 1275.1,125.5C1277.2,124.4 1280.1,122.3 1281.1,121.7" stroke="#606060" stroke-width="2.6"/>
<path d="M1259.7,132.0C1260.6,131.3 1263.5,129.2 1265.4,127.8C1267.3,126.3 1269.2,124.9 1271.0,123.3C1272.7,121.7 1275.1,119.0 1275.9,118.1" stroke="#606060" stroke-width="2.6"/>
<path d="M1308.6,138.5C1309.8,138.8 1313.2,139.9 1315.5,140.5C1317.7,141.2 1320.0,141.9 1322.3,142.4C1324.7,143.0 1328.2,143.4 1329.4,143.6" stroke="#606060" stroke-width="2.6"/>
</g></g>
<g filter="url(#b1)"><line x1="1269.0" y1="34" x2="1269.0" y2="181" stroke="#1e1e66" stroke-width="2.4"/><line x1="1204" y1="110.9" x2="1399" y2="110.9" stroke="#1e1e66" stroke-width="2.4"/>
<line x1="1269.0" y1="58" x2="1269.0" y2="148" stroke="#b4b4e4" stroke-width="2.2" opacity="0.85"/><line x1="1219" y1="110.9" x2="1380" y2="110.9" stroke="#b4b4e4" stroke-width="2.2" opacity="0.85"/></g>
<g filter="url(#b06)"><path d="M1269.8,108.5C1269.9,107.7 1272.1,105.0 1273.0,104.6C1273.9,104.2 1275.4,105.3 1275.4,106.2C1275.3,107.0 1273.4,109.4 1272.5,109.8C1271.6,110.2 1269.7,109.4 1269.8,108.5Z" fill="#f2e23a"/><circle cx="1266.6" cy="114.1" r="1.3" fill="#d8cc40"/><circle cx="1269.3" cy="112.0" r="2" fill="#2a2a70"/></g>
</g>
<text x="1282.5" y="175.1" textLength="95" lengthAdjust="spacingAndGlyphs" font-size="35.5" font-weight="bold" fill="#44c44e" filter="url(#b06)" font-family='"Liberation Sans", sans-serif'>x = 48</text>
</g>
<g id="brain3">
<rect x="510.8" y="501.3" width="159.7" height="154.7" fill="#000"/>
<clipPath id="c3"><rect x="510.8" y="501.3" width="159.7" height="154.7"/></clipPath>
<g clip-path="url(#c3)">
<path d="M588.4,517.1C584.2,517.1 580.8,515.1 576.5,515.3C572.2,515.6 567.4,517.1 562.9,518.8C558.3,520.5 553.2,522.7 549.2,525.6C545.2,528.4 541.3,532.4 539.0,535.8C536.7,539.2 535.6,543.2 535.6,546.0C535.6,548.9 539.6,550.6 539.0,552.9C538.4,555.1 534.0,556.6 532.2,559.7C530.3,562.8 528.9,567.4 527.9,571.6C526.9,575.9 526.3,580.7 526.2,585.3C526.1,589.8 526.1,594.4 527.1,598.9C528.0,603.5 529.9,608.3 532.2,612.6C534.4,616.8 537.3,620.8 540.7,624.5C544.1,628.2 548.4,631.9 552.6,634.7C556.9,637.6 562.0,640.1 566.3,641.5C570.5,643.0 574.8,643.5 578.2,643.2C581.6,643.0 584.7,641.1 586.7,639.8C588.7,638.6 588.7,635.6 590.2,635.6C591.6,635.6 592.7,638.6 595.3,639.8C597.8,641.1 601.5,643.0 605.5,643.2C609.5,643.5 614.6,643.0 619.1,641.5C623.7,640.1 628.8,637.6 632.8,634.7C636.8,631.9 640.2,628.5 643.0,624.5C645.9,620.5 648.1,615.4 649.8,610.8C651.5,606.3 652.7,602.0 653.2,597.2C653.8,592.4 654.0,586.7 653.2,581.9C652.5,577.0 650.8,572.5 649.0,568.2C647.1,563.9 644.0,559.1 642.2,556.3C640.3,553.4 638.2,553.4 637.9,551.2C637.6,548.9 640.7,545.8 640.5,542.6C640.2,539.5 638.3,535.5 636.2,532.4C634.1,529.3 631.1,526.3 627.7,523.9C624.3,521.5 620.0,519.3 615.7,517.9C611.5,516.5 606.6,515.5 602.1,515.3C597.5,515.2 592.7,517.1 588.4,517.1Z" fill="#dedede" filter="url(#b15)"/>
<clipPath id="c3b"><path d="M588.4,517.1C584.2,517.1 580.8,515.1 576.5,515.3C572.2,515.6 567.4,517.1 562.9,518.8C558.3,520.5 553.2,522.7 549.2,525.6C545.2,528.4 541.3,532.4 539.0,535.8C536.7,539.2 535.6,543.2 535.6,546.0C535.6,548.9 539.6,550.6 539.0,552.9C538.4,555.1 534.0,556.6 532.2,559.7C530.3,562.8 528.9,567.4 527.9,571.6C526.9,575.9 526.3,580.7 526.2,585.3C526.1,589.8 526.1,594.4 527.1,598.9C528.0,603.5 529.9,608.3 532.2,612.6C534.4,616.8 537.3,620.8 540.7,624.5C544.1,628.2 548.4,631.9 552.6,634.7C556.9,637.6 562.0,640.1 566.3,641.5C570.5,643.0 574.8,643.5 578.2,643.2C581.6,643.0 584.7,641.1 586.7,639.8C588.7,638.6 588.7,635.6 590.2,635.6C591.6,635.6 592.7,638.6 595.3,639.8C597.8,641.1 601.5,643.0 605.5,643.2C609.5,643.5 614.6,643.0 619.1,641.5C623.7,640.1 628.8,637.6 632.8,634.7C636.8,631.9 640.2,628.5 643.0,624.5C645.9,620.5 648.1,615.4 649.8,610.8C651.5,606.3 652.7,602.0 653.2,597.2C653.8,592.4 654.0,586.7 653.2,581.9C652.5,577.0 650.8,572.5 649.0,568.2C647.1,563.9 644.0,559.1 642.2,556.3C640.3,553.4 638.2,553.4 637.9,551.2C637.6,548.9 640.7,545.8 640.5,542.6C640.2,539.5 638.3,535.5 636.2,532.4C634.1,529.3 631.1,526.3 627.7,523.9C624.3,521.5 620.0,519.3 615.7,517.9C611.5,516.5 606.6,515.5 602.1,515.3C597.5,515.2 592.7,517.1 588.4,517.1Z"/></clipPath>
<g clip-path="url(#c3b)">
<g filter="url(#b15)">
<ellipse cx="561.2" cy="542.6" rx="15.3" ry="8.5" fill="#ececec"/>
<ellipse cx="615.7" cy="540.9" rx="15.3" ry="8.5" fill="#ececec"/>
<ellipse cx="552.6" cy="602.3" rx="13.6" ry="18.8" fill="#e8e8e8"/>
<ellipse cx="632.8" cy="595.5" rx="11.9" ry="20.5" fill="#e8e8e8"/>
<ellipse cx="581.6" cy="531.5" rx="6.5" ry="8.5" fill="#999"/>
<ellipse cx="597.0" cy="532.4" rx="6.5" ry="7.7" fill="#9a9a9a"/>
<ellipse cx="571.4" cy="566.5" rx="12.8" ry="11.1" fill="#bdbdbd"/>
<ellipse cx="608.1" cy="566.5" rx="12.8" ry="11.1" fill="#bdbdbd"/>
<ellipse cx="588.4" cy="604.0" rx="10.6" ry="12.8" fill="#8c8c8c"/>
<ellipse cx="588.4" cy="590.4" rx="11.1" ry="2.4" fill="#303030"/>
<ellipse cx="588.4" cy="572.5" rx="1.2" ry="8.5" fill="#2e2e2e"/>
<ellipse cx="546.7" cy="566.5" rx="3.8" ry="10.2" fill="#7c7c7c"/>
<ellipse cx="629.4" cy="566.5" rx="3.1" ry="10.2" fill="#7c7c7c"/>
<ellipse cx="566.3" cy="595.5" rx="8.5" ry="4.3" fill="#8a8a8a"/>
<ellipse cx="612.3" cy="595.5" rx="8.5" ry="4.3" fill="#8a8a8a"/>
<ellipse cx="588.4" cy="629.6" rx="4.3" ry="8.5" fill="#888"/>
</g>
<g filter="url(#b1)" fill="none" stroke-linecap="round">
<path d="M588.4,516.2C588.5,519.2 588.8,527.7 588.8,534.1C588.7,540.5 588.2,551.2 588.1,554.6" stroke="#777" stroke-width="2.2"/>
<path d="M586.1,515.7C586.1,516.9 587.6,520.7 586.4,522.8C585.2,524.8 580.0,527.1 578.8,527.9" stroke="#727272" stroke-width="2.1"/>
<path d="M582.5,515.2C582.4,515.9 582.5,517.4 582.0,519.3C581.4,521.2 579.6,525.4 579.1,526.7" stroke="#727272" stroke-width="2.1"/>
<path d="M577.5,514.5C577.4,514.9 577.2,515.8 576.9,516.8C576.5,517.8 575.8,519.9 575.6,520.5" stroke="#727272" stroke-width="2.1"/>
<path d="M574.5,514.9C574.5,515.2 574.1,516.1 574.6,517.2C575.1,518.2 577.0,520.6 577.4,521.3" stroke="#727272" stroke-width="2.1"/>
<path d="M568.7,516.3C569.6,517.2 573.7,519.5 574.0,521.5C574.3,523.6 571.2,527.3 570.6,528.5" stroke="#727272" stroke-width="2.1"/>
<path d="M561.9,518.1C562.8,519.3 566.4,523.6 567.1,525.0C567.8,526.5 566.4,526.4 566.2,526.7" stroke="#727272" stroke-width="2.1"/>
<path d="M558.2,520.0C558.4,520.3 558.6,521.5 559.3,521.8C560.1,522.1 562.3,521.9 562.9,521.9" stroke="#727272" stroke-width="2.1"/>
<path d="M552.1,523.0C552.8,523.5 555.0,525.1 556.1,526.1C557.3,527.2 558.5,528.8 559.0,529.3" stroke="#727272" stroke-width="2.1"/>
<path d="M547.3,526.1C548.1,526.8 550.4,530.3 552.0,530.2C553.6,530.2 556.2,526.7 557.0,526.0" stroke="#727272" stroke-width="2.1"/>
<path d="M543.5,529.9C543.9,530.2 544.3,530.2 546.0,531.8C547.7,533.5 552.4,538.5 553.6,539.8" stroke="#727272" stroke-width="2.1"/>
<path d="M541.8,531.6C542.7,532.5 545.4,535.0 546.8,537.1C548.2,539.1 549.8,542.7 550.4,543.8" stroke="#727272" stroke-width="2.1"/>
<path d="M537.3,537.5C538.5,538.0 542.2,539.2 544.3,540.6C546.3,542.0 548.7,545.0 549.5,545.9" stroke="#727272" stroke-width="2.1"/>
<path d="M536.9,539.0C537.9,539.3 542.1,540.2 543.2,541.1C544.3,542.1 543.5,544.2 543.5,544.8" stroke="#727272" stroke-width="2.1"/>
<path d="M535.4,543.4C535.7,543.4 536.4,542.7 537.4,543.7C538.4,544.7 540.9,548.4 541.5,549.3" stroke="#727272" stroke-width="2.1"/>
<path d="M534.9,546.6C536.1,546.6 539.8,546.5 542.1,547.0C544.5,547.5 547.9,549.1 549.1,549.5" stroke="#727272" stroke-width="2.1"/>
<path d="M536.9,549.9C537.3,550.5 538.0,552.8 539.6,553.6C541.2,554.3 545.3,554.2 546.4,554.3" stroke="#727272" stroke-width="2.1"/>
<path d="M538.0,552.7C539.2,553.0 543.7,554.5 545.5,554.0C547.4,553.4 548.5,550.3 549.1,549.5" stroke="#727272" stroke-width="2.1"/>
<path d="M536.3,554.4C537.3,554.5 540.4,554.0 542.2,555.0C544.0,555.9 546.3,559.4 547.1,560.3" stroke="#727272" stroke-width="2.1"/>
<path d="M532.9,557.7C533.8,558.0 536.8,558.9 538.4,559.3C540.1,559.7 542.2,559.9 542.9,560.1" stroke="#727272" stroke-width="2.1"/>
<path d="M532.0,558.6C533.4,559.0 538.2,560.6 540.6,560.7C542.9,560.9 545.1,559.9 546.0,559.7" stroke="#727272" stroke-width="2.1"/>
<path d="M530.2,562.2C531.5,562.2 535.8,561.5 537.8,562.2C539.7,562.9 541.3,565.8 542.1,566.5" stroke="#727272" stroke-width="2.1"/>
<path d="M528.0,568.3C528.9,568.8 531.3,570.4 533.4,571.1C535.4,571.8 539.2,572.2 540.3,572.4" stroke="#727272" stroke-width="2.1"/>
<path d="M526.7,573.1C527.6,573.4 531.0,575.1 532.3,574.9C533.6,574.6 534.2,572.1 534.6,571.5" stroke="#727272" stroke-width="2.1"/>
<path d="M526.2,577.6C527.1,577.6 529.8,577.3 531.8,577.5C533.7,577.7 536.8,578.5 537.9,578.7" stroke="#727272" stroke-width="2.1"/>
<path d="M525.7,581.4C526.9,581.4 531.0,580.7 532.9,581.6C534.7,582.6 536.0,586.3 536.6,587.2" stroke="#727272" stroke-width="2.1"/>
<path d="M525.4,587.4C526.5,587.8 529.7,588.4 532.1,589.9C534.4,591.4 538.3,595.3 539.5,596.4" stroke="#727272" stroke-width="2.1"/>
<path d="M525.7,593.8C526.8,593.7 530.6,593.1 532.2,593.2C533.9,593.3 535.2,594.2 535.8,594.4" stroke="#727272" stroke-width="2.1"/>
<path d="M525.9,597.2C526.8,597.2 529.5,597.4 531.1,597.6C532.7,597.8 534.7,598.2 535.5,598.3" stroke="#727272" stroke-width="2.1"/>
<path d="M526.6,600.4C527.3,599.8 529.5,597.3 531.0,596.5C532.4,595.7 534.6,595.8 535.3,595.6" stroke="#727272" stroke-width="2.1"/>
<path d="M528.3,605.1C528.6,604.7 529.3,603.2 530.4,602.3C531.5,601.4 534.1,600.3 534.8,599.8" stroke="#727272" stroke-width="2.1"/>
<path d="M530.7,611.0C531.1,610.4 532.1,608.9 533.2,607.4C534.3,605.8 536.6,602.7 537.2,601.8" stroke="#727272" stroke-width="2.1"/>
<path d="M535.0,618.1C535.3,617.4 536.3,614.7 536.4,613.6C536.5,612.5 535.9,611.9 535.8,611.5" stroke="#727272" stroke-width="2.1"/>
<path d="M536.8,620.6C537.0,619.8 537.3,617.3 537.9,615.7C538.4,614.1 539.7,611.8 540.1,611.0" stroke="#727272" stroke-width="2.1"/>
<path d="M541.2,626.2C542.1,625.9 545.2,625.7 546.6,624.6C547.9,623.4 548.8,620.2 549.2,619.3" stroke="#727272" stroke-width="2.1"/>
<path d="M544.4,629.0C545.5,628.3 549.7,625.4 551.1,624.5C552.6,623.7 552.7,624.0 553.1,623.9" stroke="#727272" stroke-width="2.1"/>
<path d="M547.1,631.2C547.4,630.2 548.4,626.2 549.1,624.8C549.9,623.5 551.2,623.3 551.6,622.9" stroke="#727272" stroke-width="2.1"/>
<path d="M552.5,635.8C552.7,635.5 553.2,634.7 553.7,634.0C554.3,633.2 555.3,631.8 555.6,631.4" stroke="#727272" stroke-width="2.1"/>
<path d="M559.4,639.3C560.1,638.7 562.6,637.1 563.3,635.8C563.9,634.5 563.2,632.4 563.2,631.7" stroke="#727272" stroke-width="2.1"/>
<path d="M564.8,641.9C565.0,641.1 565.6,638.1 566.2,636.7C566.9,635.4 568.3,634.4 568.7,633.9" stroke="#727272" stroke-width="2.1"/>
<path d="M566.6,642.5C567.0,641.6 567.9,638.4 568.8,637.3C569.6,636.3 571.2,636.4 571.7,636.2" stroke="#727272" stroke-width="2.1"/>
<path d="M573.1,643.5C572.9,643.1 572.2,642.5 572.0,641.1C571.7,639.7 571.5,636.3 571.4,635.3" stroke="#727272" stroke-width="2.1"/>
<path d="M576.0,643.9C576.5,642.9 577.7,639.2 578.7,637.4C579.8,635.6 581.8,633.7 582.4,633.0" stroke="#727272" stroke-width="2.1"/>
<path d="M580.1,643.5C580.1,642.8 580.4,640.5 580.1,639.1C579.9,637.8 579.0,635.9 578.8,635.2" stroke="#727272" stroke-width="2.1"/>
<path d="M583.6,642.2C583.4,641.8 582.0,641.1 582.0,639.8C582.1,638.5 583.5,635.4 583.8,634.5" stroke="#727272" stroke-width="2.1"/>
<path d="M584.6,641.5C584.9,640.9 585.7,639.2 586.5,637.7C587.2,636.2 588.6,633.3 589.0,632.4" stroke="#727272" stroke-width="2.1"/>
<path d="M588.2,639.1C588.3,638.2 589.4,635.0 589.0,633.5C588.5,632.0 586.1,630.7 585.5,630.1" stroke="#727272" stroke-width="2.1"/>
<path d="M588.2,638.6C588.5,637.5 588.8,633.7 590.0,632.3C591.1,630.8 594.3,630.4 595.2,630.0" stroke="#727272" stroke-width="2.1"/>
<path d="M589.8,637.0C589.8,636.0 590.3,632.9 589.7,631.1C589.0,629.4 586.5,627.2 585.9,626.4" stroke="#727272" stroke-width="2.1"/>
<path d="M592.9,638.4C592.8,638.0 592.6,636.6 592.2,635.9C591.7,635.1 590.7,634.2 590.4,633.8" stroke="#727272" stroke-width="2.1"/>
<path d="M593.7,639.8C594.3,638.5 595.6,634.0 597.2,631.6C598.9,629.2 602.4,626.5 603.5,625.5" stroke="#727272" stroke-width="2.1"/>
<path d="M596.1,641.2C596.2,640.1 595.5,636.8 596.8,634.8C598.2,632.8 603.1,630.1 604.3,629.2" stroke="#727272" stroke-width="2.1"/>
<path d="M600.3,642.4C600.2,641.6 600.5,638.4 599.7,637.3C599.0,636.2 596.5,635.9 595.8,635.6" stroke="#727272" stroke-width="2.1"/>
<path d="M602.7,642.9C602.3,642.4 601.8,641.2 600.3,639.9C598.7,638.5 594.6,635.6 593.5,634.7" stroke="#727272" stroke-width="2.1"/>
<path d="M607.0,644.1C607.1,643.2 608.6,640.4 607.6,638.7C606.6,637.0 602.2,634.7 601.1,634.0" stroke="#727272" stroke-width="2.1"/>
<path d="M611.2,643.6C611.3,642.7 611.7,640.3 611.6,638.7C611.5,637.2 610.6,635.0 610.4,634.3" stroke="#727272" stroke-width="2.1"/>
<path d="M618.1,642.5C617.5,641.5 616.0,637.9 614.3,636.5C612.6,635.0 609.2,634.4 608.1,634.0" stroke="#727272" stroke-width="2.1"/>
<path d="M623.8,640.3C623.2,639.3 621.1,635.4 619.9,634.8C618.6,634.2 616.9,636.1 616.4,636.4" stroke="#727272" stroke-width="2.1"/>
<path d="M626.0,639.2C625.9,638.6 626.3,636.9 625.5,635.6C624.7,634.3 622.0,632.1 621.2,631.3" stroke="#727272" stroke-width="2.1"/>
<path d="M630.5,637.0C630.1,636.8 628.3,636.4 628.0,635.6C627.8,634.8 628.9,632.6 629.1,632.0" stroke="#727272" stroke-width="2.1"/>
<path d="M634.9,633.8C634.9,632.7 634.9,628.7 634.6,626.9C634.4,625.1 633.8,623.7 633.6,623.0" stroke="#727272" stroke-width="2.1"/>
<path d="M639.5,629.4C638.7,628.8 636.2,627.3 634.4,625.8C632.6,624.3 629.6,621.3 628.7,620.3" stroke="#727272" stroke-width="2.1"/>
<path d="M643.9,624.6C643.7,624.0 643.2,622.1 642.5,620.7C641.7,619.3 639.9,616.9 639.4,616.2" stroke="#727272" stroke-width="2.1"/>
<path d="M646.9,619.0C646.1,618.6 643.4,617.3 642.3,616.4C641.2,615.5 640.5,614.2 640.1,613.8" stroke="#727272" stroke-width="2.1"/>
<path d="M648.7,615.4C648.3,615.2 647.1,615.2 646.5,614.6C645.8,613.9 645.2,612.0 645.0,611.4" stroke="#727272" stroke-width="2.1"/>
<path d="M651.1,609.9C650.3,609.8 647.5,609.8 646.3,609.3C645.1,608.8 644.2,607.2 643.8,606.8" stroke="#727272" stroke-width="2.1"/>
<path d="M652.0,606.3C651.1,606.1 648.1,605.2 646.7,605.0C645.4,604.8 644.2,605.2 643.7,605.2" stroke="#727272" stroke-width="2.1"/>
<path d="M652.9,602.5C652.5,602.0 651.9,601.0 651.0,600.0C650.1,599.0 648.0,597.0 647.4,596.4" stroke="#727272" stroke-width="2.1"/>
<path d="M654.3,592.6C653.2,592.9 649.7,593.3 647.8,594.3C645.9,595.3 643.5,597.8 642.6,598.5" stroke="#727272" stroke-width="2.1"/>
<path d="M654.2,590.3C653.4,590.4 650.3,590.6 649.0,591.2C647.7,591.7 646.8,593.3 646.4,593.7" stroke="#727272" stroke-width="2.1"/>
<path d="M654.3,584.7C653.7,584.8 652.2,584.9 650.9,585.2C649.5,585.6 647.0,586.3 646.3,586.5" stroke="#727272" stroke-width="2.1"/>
<path d="M653.0,578.4C652.1,578.3 649.4,577.7 647.5,577.8C645.6,577.8 642.5,578.6 641.6,578.8" stroke="#727272" stroke-width="2.1"/>
<path d="M651.4,572.5C650.9,572.9 649.5,574.5 648.5,574.8C647.4,575.2 645.7,574.8 645.2,574.8" stroke="#727272" stroke-width="2.1"/>
<path d="M650.6,570.0C649.6,570.8 646.0,573.5 644.9,575.2C643.7,576.9 643.8,579.3 643.6,580.1" stroke="#727272" stroke-width="2.1"/>
<path d="M648.7,565.8C648.1,565.9 645.8,565.8 644.9,566.5C643.9,567.3 643.4,569.7 643.2,570.4" stroke="#727272" stroke-width="2.1"/>
<path d="M646.4,562.0C645.8,561.9 643.9,560.8 642.7,561.1C641.5,561.4 639.6,563.5 639.0,564.0" stroke="#727272" stroke-width="2.1"/>
<path d="M643.1,555.9C642.7,556.6 642.5,558.5 640.9,560.1C639.3,561.7 634.8,564.5 633.6,565.3" stroke="#727272" stroke-width="2.1"/>
<path d="M642.1,554.6C641.3,554.9 639.3,555.9 637.7,556.2C636.1,556.5 633.3,556.5 632.4,556.5" stroke="#727272" stroke-width="2.1"/>
<path d="M639.3,551.2C638.9,551.6 637.4,552.2 636.7,553.5C636.0,554.8 635.1,558.0 634.8,558.9" stroke="#727272" stroke-width="2.1"/>
<path d="M639.0,551.0C637.8,551.1 633.8,550.4 632.1,551.4C630.4,552.5 629.4,556.4 628.9,557.4" stroke="#727272" stroke-width="2.1"/>
<path d="M639.6,547.7C638.7,548.0 636.0,547.9 634.3,549.5C632.7,551.1 630.5,556.1 629.7,557.4" stroke="#727272" stroke-width="2.1"/>
<path d="M640.4,544.2C639.7,544.7 636.8,546.5 636.0,547.3C635.2,548.1 635.6,548.9 635.6,549.2" stroke="#727272" stroke-width="2.1"/>
<path d="M640.7,540.5C639.9,540.8 637.8,542.4 636.0,542.3C634.2,542.2 630.8,540.3 629.7,539.9" stroke="#727272" stroke-width="2.1"/>
<path d="M639.0,536.5C638.1,536.7 635.9,536.6 633.8,537.4C631.8,538.1 628.0,540.5 626.8,541.1" stroke="#727272" stroke-width="2.1"/>
<path d="M637.5,533.7C637.2,534.4 635.5,536.5 635.3,537.8C635.1,539.0 636.2,540.6 636.3,541.1" stroke="#727272" stroke-width="2.1"/>
<path d="M634.2,529.0C633.6,529.1 631.1,529.5 630.5,529.9C629.9,530.3 630.5,531.3 630.5,531.6" stroke="#727272" stroke-width="2.1"/>
<path d="M630.7,525.4C630.2,525.8 628.4,526.6 627.7,527.9C627.0,529.1 626.5,532.2 626.3,533.1" stroke="#727272" stroke-width="2.1"/>
<path d="M628.6,523.4C627.6,524.0 623.5,526.3 622.4,527.2C621.2,528.0 621.9,528.3 621.8,528.5" stroke="#727272" stroke-width="2.1"/>
<path d="M624.9,521.5C623.8,522.0 620.4,523.2 618.3,524.4C616.3,525.7 613.4,528.3 612.4,529.0" stroke="#727272" stroke-width="2.1"/>
<path d="M620.3,519.0C620.1,520.0 620.9,523.1 619.2,524.9C617.6,526.7 612.0,529.1 610.6,530.0" stroke="#727272" stroke-width="2.1"/>
<path d="M617.4,517.6C616.6,518.5 613.1,521.7 612.7,522.8C612.3,523.9 614.5,524.0 614.9,524.2" stroke="#727272" stroke-width="2.1"/>
<path d="M611.1,516.1C610.5,516.6 607.8,517.8 607.2,518.9C606.5,520.0 607.4,522.2 607.5,522.8" stroke="#727272" stroke-width="2.1"/>
<path d="M606.6,515.2C606.2,515.6 605.3,517.0 604.1,517.9C603.0,518.7 600.6,520.1 599.9,520.5" stroke="#727272" stroke-width="2.1"/>
<path d="M599.6,514.7C599.1,515.7 597.5,518.8 597.1,520.4C596.7,521.9 597.1,523.3 597.1,523.9" stroke="#727272" stroke-width="2.1"/>
<path d="M596.8,515.0C597.3,515.8 599.8,518.0 599.8,519.8C599.8,521.6 597.1,524.8 596.6,525.8" stroke="#727272" stroke-width="2.1"/>
<path d="M590.5,515.9C590.4,516.7 589.3,519.0 589.5,520.7C589.7,522.4 591.4,525.4 591.8,526.3" stroke="#727272" stroke-width="2.1"/>
<path d="M578.1,516.2C577.8,516.4 576.8,516.5 576.2,517.3C575.6,518.0 574.9,519.9 574.6,520.4" stroke="#8a8a8a" stroke-width="3"/>
<path d="M564.2,519.1C564.4,519.5 565.2,521.3 565.7,522.0C566.1,522.7 566.7,523.1 566.9,523.3" stroke="#8a8a8a" stroke-width="3"/>
<path d="M551.1,525.4C551.2,525.8 551.3,527.3 551.6,528.0C551.8,528.7 552.5,529.2 552.7,529.4" stroke="#8a8a8a" stroke-width="3"/>
<path d="M538.6,537.9C538.4,538.4 538.0,540.0 537.8,540.8C537.6,541.5 537.5,542.1 537.4,542.4" stroke="#8a8a8a" stroke-width="3"/>
<path d="M537.2,543.2C537.6,543.3 538.6,544.2 539.5,543.8C540.4,543.4 542.2,541.4 542.7,541.0" stroke="#8a8a8a" stroke-width="3"/>
<path d="M537.1,555.5C537.8,555.5 540.2,555.5 541.2,555.9C542.3,556.2 543.1,557.2 543.5,557.4" stroke="#8a8a8a" stroke-width="3"/>
<path d="M529.6,568.0C529.6,568.4 529.4,569.4 529.7,570.0C529.9,570.5 530.8,571.3 531.0,571.5" stroke="#8a8a8a" stroke-width="3"/>
<path d="M528.0,574.0C528.1,574.4 528.0,575.9 528.6,576.5C529.2,577.1 531.1,577.2 531.5,577.4" stroke="#8a8a8a" stroke-width="3"/>
<path d="M527.0,593.1C527.3,592.9 528.8,592.2 528.8,591.7C528.8,591.2 527.3,590.4 527.1,590.1" stroke="#8a8a8a" stroke-width="3"/>
<path d="M529.2,602.9C529.7,602.5 531.1,601.1 531.8,600.3C532.5,599.4 533.1,598.3 533.3,597.9" stroke="#8a8a8a" stroke-width="3"/>
<path d="M537.5,619.6C537.8,619.9 538.4,620.6 538.9,621.1C539.4,621.6 540.5,622.4 540.8,622.7" stroke="#8a8a8a" stroke-width="3"/>
<path d="M550.9,632.8C551.5,633.1 553.4,633.8 554.4,634.3C555.5,634.9 556.8,635.9 557.3,636.2" stroke="#8a8a8a" stroke-width="3"/>
<path d="M571.7,641.6C571.9,641.2 573.0,639.8 572.9,639.1C572.8,638.4 571.5,637.7 571.2,637.4" stroke="#8a8a8a" stroke-width="3"/>
<path d="M579.1,642.3C579.0,641.6 579.0,639.3 578.8,638.3C578.5,637.3 577.8,636.7 577.6,636.3" stroke="#8a8a8a" stroke-width="3"/>
<path d="M587.4,637.9C587.4,637.5 587.5,636.2 587.0,635.3C586.5,634.5 584.9,633.5 584.4,633.1" stroke="#8a8a8a" stroke-width="3"/>
<path d="M593.2,637.9C592.9,637.4 592.2,635.7 591.6,635.1C591.1,634.5 590.0,634.6 589.7,634.5" stroke="#8a8a8a" stroke-width="3"/>
<path d="M604.8,642.6C604.7,642.4 604.7,642.1 604.0,641.3C603.4,640.5 601.3,638.4 600.8,637.9" stroke="#8a8a8a" stroke-width="3"/>
<path d="M614.2,641.6C614.1,641.4 614.0,640.8 613.3,640.4C612.7,640.0 610.9,639.5 610.5,639.4" stroke="#8a8a8a" stroke-width="3"/>
<path d="M631.0,635.4C630.8,635.3 630.4,634.7 629.8,634.8C629.3,635.0 627.9,636.1 627.5,636.4" stroke="#8a8a8a" stroke-width="3"/>
<path d="M646.3,617.0C646.2,616.9 645.4,616.7 645.4,616.1C645.4,615.6 646.1,613.9 646.2,613.5" stroke="#8a8a8a" stroke-width="3"/>
<path d="M651.2,603.6C651.0,603.0 650.5,601.0 650.0,600.4C649.6,599.9 648.7,600.1 648.4,600.0" stroke="#8a8a8a" stroke-width="3"/>
<path d="M652.6,589.6C652.4,589.3 651.7,588.3 651.1,588.0C650.4,587.6 649.1,587.6 648.7,587.5" stroke="#8a8a8a" stroke-width="3"/>
<path d="M650.8,575.0C650.6,574.5 649.8,572.5 649.5,572.1C649.2,571.6 649.0,572.4 648.9,572.5" stroke="#8a8a8a" stroke-width="3"/>
<path d="M643.4,559.0C643.1,558.6 642.3,557.8 641.5,557.0C640.8,556.1 639.4,554.3 638.9,553.8" stroke="#8a8a8a" stroke-width="3"/>
<path d="M639.7,553.7C639.3,553.4 637.8,552.8 636.9,552.4C636.0,552.0 634.6,551.5 634.1,551.3" stroke="#8a8a8a" stroke-width="3"/>
<path d="M640.1,542.4C640.4,542.8 641.8,544.1 641.5,545.0C641.2,545.8 638.8,547.2 638.2,547.6" stroke="#8a8a8a" stroke-width="3"/>
<path d="M633.0,530.0C632.9,530.7 631.9,533.1 632.3,534.2C632.6,535.3 634.5,536.2 634.9,536.5" stroke="#8a8a8a" stroke-width="3"/>
<path d="M621.7,521.6C621.3,521.8 619.4,521.9 618.8,522.7C618.3,523.5 618.4,525.8 618.3,526.5" stroke="#8a8a8a" stroke-width="3"/>
<path d="M605.0,516.4C604.7,516.7 603.3,517.7 602.8,518.2C602.4,518.7 602.2,519.2 602.0,519.3" stroke="#8a8a8a" stroke-width="3"/>
<path d="M600.8,516.1C600.6,516.4 599.9,516.9 600.0,517.7C600.1,518.5 601.2,520.4 601.4,520.9" stroke="#8a8a8a" stroke-width="3"/>
<path d="M605.5,619.4C606.6,615.7 611.2,600.9 612.3,597.2" stroke="#808080" stroke-width="1.8"/>
<path d="M610.3,619.4C611.4,615.7 616.0,600.9 617.1,597.2" stroke="#808080" stroke-width="1.8"/>
<path d="M615.0,619.4C616.2,615.7 620.7,600.9 621.9,597.2" stroke="#808080" stroke-width="1.8"/>
<path d="M619.8,619.4C621.0,615.7 625.5,600.9 626.6,597.2" stroke="#808080" stroke-width="1.8"/>
<ellipse cx="588.4" cy="604.9" rx="10.6" ry="13.3" stroke="#555" stroke-width="1.5"/>
</g></g>
<g filter="url(#b06)"><line x1="626.8" y1="502" x2="626.8" y2="656" stroke="#1a1a50" stroke-width="1.5"/><line x1="511" y1="549.1" x2="670.5" y2="549.1" stroke="#1a1a50" stroke-width="1.5"/>
<line x1="626.8" y1="524" x2="626.8" y2="636" stroke="#a8a8de" stroke-width="1.4"/><line x1="535" y1="549.1" x2="640" y2="549.1" stroke="#a8a8de" stroke-width="1.4"/></g>
<g filter="url(#b06)" fill="#f0e22c"><path d="M620.8,551.2C621.8,549.7 624.5,546.5 626.0,546.0C627.4,545.6 628.4,549.0 629.4,548.6C630.4,548.2 630.7,544.3 631.9,543.5C633.2,542.7 636.1,543.1 637.0,544.0C638.0,544.8 638.5,547.3 637.9,548.6C637.3,549.9 634.6,550.7 633.6,552.0C632.6,553.3 632.9,555.8 631.9,556.3C630.9,556.8 628.9,554.9 627.7,554.9C626.4,554.9 625.5,556.3 624.3,556.3C623.1,556.2 621.1,555.4 620.5,554.6C619.9,553.7 619.9,552.6 620.8,551.2Z"/></g>
<circle cx="628.9" cy="549.5" r="1.6" fill="#dcdce8"/>
</g>
<text x="576.5" y="650.9" textLength="65.7" lengthAdjust="spacingAndGlyphs" font-size="25" font-weight="bold" fill="#40c04c" filter="url(#b06)" font-family='"Liberation Sans", sans-serif'>z = -4</text>
</g>
<g id="brain4">
<rect x="1210" y="499" width="188" height="148.7" fill="#000"/>
<clipPath id="c4"><rect x="1210" y="499" width="188" height="148.7"/></clipPath>
<g clip-path="url(#c4)">
<path d="M1213.8,582.9C1213.5,579.0 1214.2,575.1 1215.4,571.3C1216.7,567.4 1218.6,563.3 1221.2,559.7C1223.8,556.2 1227.3,552.9 1231.1,549.8C1235.0,546.8 1239.6,544.3 1244.3,541.6C1249.0,538.8 1254.0,535.8 1259.2,533.3C1264.4,530.8 1269.9,528.6 1275.7,526.7C1281.5,524.8 1288.1,523.0 1293.9,521.8C1299.6,520.5 1304.9,519.6 1310.4,519.3C1315.9,519.0 1321.6,519.3 1326.9,520.1C1332.1,520.9 1337.1,522.3 1341.7,524.2C1346.4,526.2 1350.8,528.8 1354.9,531.7C1359.1,534.6 1362.6,538.0 1366.5,541.6C1370.3,545.2 1374.6,549.3 1378.1,553.1C1381.5,557.0 1384.7,560.8 1387.1,564.7C1389.6,568.5 1391.7,572.4 1392.9,576.2C1394.1,580.1 1394.8,584.0 1394.6,587.8C1394.3,591.7 1392.9,595.8 1391.3,599.4C1389.6,602.9 1387.4,606.2 1384.7,609.3C1381.9,612.3 1378.1,614.8 1374.7,617.5C1371.4,620.3 1368.1,623.6 1364.8,625.8C1361.5,628.0 1357.7,629.4 1354.9,630.7C1352.2,632.1 1350.8,634.3 1348.3,634.0C1345.9,633.8 1342.1,629.1 1340.1,629.1C1338.0,629.1 1336.9,631.8 1336.0,634.0C1335.0,636.2 1335.8,640.6 1334.3,642.3C1332.8,643.9 1329.2,644.5 1326.9,643.9C1324.5,643.4 1322.5,640.9 1320.3,639.0C1318.1,637.1 1315.9,635.1 1313.7,632.4C1311.5,629.6 1309.3,625.5 1307.1,622.5C1304.9,619.4 1302.7,616.1 1300.5,614.2C1298.3,612.3 1296.3,611.5 1293.9,610.9C1291.4,610.4 1288.3,610.6 1285.6,610.9C1282.8,611.2 1279.5,612.8 1277.3,612.6C1275.1,612.3 1274.9,609.5 1272.4,609.3C1269.9,609.0 1266.3,610.6 1262.5,610.9C1258.6,611.2 1253.7,611.5 1249.3,610.9C1244.9,610.4 1240.2,609.0 1236.1,607.6C1231.9,606.2 1227.7,604.9 1224.5,602.7C1221.3,600.5 1218.9,597.7 1217.1,594.4C1215.3,591.1 1214.1,586.7 1213.8,582.9Z" fill="#a9a9a9" filter="url(#b15)"/>
<clipPath id="c4b"><path d="M1213.8,582.9C1213.5,579.0 1214.2,575.1 1215.4,571.3C1216.7,567.4 1218.6,563.3 1221.2,559.7C1223.8,556.2 1227.3,552.9 1231.1,549.8C1235.0,546.8 1239.6,544.3 1244.3,541.6C1249.0,538.8 1254.0,535.8 1259.2,533.3C1264.4,530.8 1269.9,528.6 1275.7,526.7C1281.5,524.8 1288.1,523.0 1293.9,521.8C1299.6,520.5 1304.9,519.6 1310.4,519.3C1315.9,519.0 1321.6,519.3 1326.9,520.1C1332.1,520.9 1337.1,522.3 1341.7,524.2C1346.4,526.2 1350.8,528.8 1354.9,531.7C1359.1,534.6 1362.6,538.0 1366.5,541.6C1370.3,545.2 1374.6,549.3 1378.1,553.1C1381.5,557.0 1384.7,560.8 1387.1,564.7C1389.6,568.5 1391.7,572.4 1392.9,576.2C1394.1,580.1 1394.8,584.0 1394.6,587.8C1394.3,591.7 1392.9,595.8 1391.3,599.4C1389.6,602.9 1387.4,606.2 1384.7,609.3C1381.9,612.3 1378.1,614.8 1374.7,617.5C1371.4,620.3 1368.1,623.6 1364.8,625.8C1361.5,628.0 1357.7,629.4 1354.9,630.7C1352.2,632.1 1350.8,634.3 1348.3,634.0C1345.9,633.8 1342.1,629.1 1340.1,629.1C1338.0,629.1 1336.9,631.8 1336.0,634.0C1335.0,636.2 1335.8,640.6 1334.3,642.3C1332.8,643.9 1329.2,644.5 1326.9,643.9C1324.5,643.4 1322.5,640.9 1320.3,639.0C1318.1,637.1 1315.9,635.1 1313.7,632.4C1311.5,629.6 1309.3,625.5 1307.1,622.5C1304.9,619.4 1302.7,616.1 1300.5,614.2C1298.3,612.3 1296.3,611.5 1293.9,610.9C1291.4,610.4 1288.3,610.6 1285.6,610.9C1282.8,611.2 1279.5,612.8 1277.3,612.6C1275.1,612.3 1274.9,609.5 1272.4,609.3C1269.9,609.0 1266.3,610.6 1262.5,610.9C1258.6,611.2 1253.7,611.5 1249.3,610.9C1244.9,610.4 1240.2,609.0 1236.1,607.6C1231.9,606.2 1227.7,604.9 1224.5,602.7C1221.3,600.5 1218.9,597.7 1217.1,594.4C1215.3,591.1 1214.1,586.7 1213.8,582.9Z"/></clipPath>
<g clip-path="url(#c4b)">
<g filter="url(#b15)">
<ellipse cx="1376.4" cy="576.2" rx="18.2" ry="24.8" fill="#c2c2c2"/>
<path d="M1262.5,582.9C1262.5,579.3 1271.0,574.0 1277.3,571.3C1283.7,568.5 1293.3,566.3 1300.5,566.3C1307.6,566.3 1314.8,569.1 1320.3,571.3C1325.8,573.5 1330.7,576.5 1333.5,579.5C1336.2,582.6 1338.4,587.0 1336.8,589.5C1335.1,591.9 1329.6,593.9 1323.6,594.4C1317.5,595.0 1308.2,593.0 1300.5,592.8C1292.8,592.5 1283.7,594.4 1277.3,592.8C1271.0,591.1 1262.5,586.4 1262.5,582.9Z" fill="#6a6a6a"/>
<path d="M1264.1,585.3C1268.5,585.1 1280.1,584.0 1290.5,584.2C1301.0,584.3 1320.8,585.8 1326.9,586.2" stroke="#3a3a3a" stroke-width="4" fill="none"/>
<path d="M1323.6,596.1C1324.7,594.4 1331.0,599.4 1333.5,602.7C1336.0,606.0 1337.9,611.5 1338.4,615.9C1339.0,620.3 1338.2,627.4 1336.8,629.1C1335.4,630.7 1331.8,628.5 1330.2,625.8C1328.5,623.0 1328.0,617.5 1326.9,612.6C1325.8,607.6 1322.5,597.7 1323.6,596.1Z" fill="#2c2c2c"/>
<path d="M1274.0,602.7C1275.4,600.5 1281.7,598.3 1285.6,597.7C1289.4,597.2 1294.7,597.2 1297.2,599.4C1299.6,601.6 1302.1,609.3 1300.5,610.9C1298.8,612.6 1291.1,609.3 1287.2,609.3C1283.4,609.3 1279.5,612.0 1277.3,610.9C1275.1,609.8 1272.7,604.9 1274.0,602.7Z" fill="#555"/>
<ellipse cx="1350.0" cy="606.8" rx="22.3" ry="20.6" fill="#9a9a9a"/>
<path d="M1297.2,596.1C1298.5,592.8 1303.2,590.0 1307.1,589.5C1310.9,588.9 1317.0,589.5 1320.3,592.8C1323.6,596.1 1324.7,601.0 1326.9,609.3C1329.1,617.5 1334.0,636.6 1333.5,642.3C1332.9,647.9 1326.6,644.8 1323.6,643.1C1320.5,641.5 1318.3,636.4 1315.3,632.4C1312.3,628.4 1308.2,623.0 1305.4,619.2C1302.7,615.3 1300.2,613.1 1298.8,609.3C1297.4,605.4 1295.8,599.4 1297.2,596.1Z" fill="#cdcdcd"/>
<ellipse cx="1309.5" cy="613.4" rx="10.7" ry="12.4" fill="#d6d6d6"/>
</g>
<g filter="url(#b1)" fill="none" stroke-linecap="round">
<path d="M1248.4,585.3C1250.0,584.0 1253.3,579.8 1257.5,577.1C1261.8,574.3 1268.0,571.0 1274.0,568.8C1280.1,566.6 1287.8,564.8 1293.9,563.9C1299.9,563.0 1306.0,563.0 1310.4,563.4C1314.8,563.8 1318.6,565.8 1320.3,566.3" stroke="#f2f2f2" stroke-width="5.6"/>
<ellipse cx="1320.3" cy="570.5" rx="5.9" ry="6.9" fill="#f0f0f0"/>
<path d="M1252.6,586.2C1254.2,586.3 1259.2,586.4 1262.5,587.0C1265.8,587.5 1270.7,589.0 1272.4,589.5" stroke="#e8e8e8" stroke-width="2.5"/>
<path d="M1241.0,589.5C1241.3,586.7 1240.2,577.9 1242.7,572.9C1245.1,568.0 1250.7,563.3 1255.9,559.7C1261.1,556.2 1267.2,553.7 1274.0,551.5C1280.9,549.3 1289.4,547.1 1297.2,546.5C1304.9,546.0 1313.7,546.3 1320.3,548.2C1326.9,550.1 1334.0,556.4 1336.8,558.1" stroke="#6a6a6a" stroke-width="2.2"/>
<path d="M1213.4,581.1C1214.5,580.6 1218.3,577.8 1220.0,578.2C1221.6,578.6 1222.6,582.8 1223.2,583.7" stroke="#666" stroke-width="2.1"/>
<path d="M1213.8,578.3C1214.7,578.3 1216.8,578.5 1219.3,578.6C1221.7,578.8 1226.8,579.2 1228.4,579.4" stroke="#666" stroke-width="2.1"/>
<path d="M1214.6,572.7C1215.2,572.5 1216.3,571.5 1218.1,571.2C1219.9,570.8 1224.3,570.6 1225.5,570.5" stroke="#666" stroke-width="2.1"/>
<path d="M1216.2,568.5C1217.3,568.4 1220.0,567.1 1222.7,567.8C1225.5,568.5 1231.0,571.9 1232.7,572.8" stroke="#666" stroke-width="2.1"/>
<path d="M1217.6,565.9C1218.2,565.5 1219.8,564.4 1221.7,563.3C1223.5,562.3 1227.7,560.2 1228.9,559.6" stroke="#666" stroke-width="2.1"/>
<path d="M1220.3,560.0C1220.8,560.5 1221.7,562.1 1223.1,563.0C1224.5,563.9 1228.0,565.0 1229.0,565.4" stroke="#666" stroke-width="2.1"/>
<path d="M1223.3,557.1C1224.2,557.0 1226.6,557.5 1229.0,556.4C1231.5,555.3 1236.5,551.6 1237.9,550.7" stroke="#666" stroke-width="2.1"/>
<path d="M1224.2,556.2C1225.0,555.7 1226.8,552.5 1229.1,553.1C1231.5,553.7 1236.9,558.8 1238.5,559.9" stroke="#666" stroke-width="2.1"/>
<path d="M1228.6,551.5C1229.6,551.9 1231.6,553.1 1234.2,554.1C1236.8,555.1 1242.6,557.0 1244.2,557.6" stroke="#666" stroke-width="2.1"/>
<path d="M1234.3,547.5C1235.6,547.2 1239.7,544.5 1242.1,545.6C1244.4,546.6 1247.4,552.5 1248.4,553.9" stroke="#666" stroke-width="2.1"/>
<path d="M1238.8,544.5C1240.5,544.5 1246.4,545.1 1249.1,544.2C1251.7,543.2 1253.9,539.8 1254.8,538.9" stroke="#666" stroke-width="2.1"/>
<path d="M1241.2,542.8C1242.3,543.4 1245.7,544.0 1247.7,546.3C1249.7,548.6 1252.3,554.9 1253.2,556.6" stroke="#666" stroke-width="2.1"/>
<path d="M1246.6,539.6C1247.8,540.3 1252.0,542.0 1254.1,543.7C1256.2,545.4 1258.5,548.9 1259.4,549.9" stroke="#666" stroke-width="2.1"/>
<path d="M1250.6,537.4C1251.2,537.8 1252.8,538.6 1254.5,539.9C1256.3,541.2 1259.9,544.2 1260.9,545.0" stroke="#666" stroke-width="2.1"/>
<path d="M1254.9,535.0C1255.4,535.9 1257.3,538.9 1257.9,540.3C1258.5,541.7 1258.3,542.8 1258.4,543.3" stroke="#666" stroke-width="2.1"/>
<path d="M1260.6,532.1C1260.8,533.4 1260.8,538.4 1261.8,540.3C1262.8,542.2 1265.9,543.0 1266.7,543.5" stroke="#666" stroke-width="2.1"/>
<path d="M1268.6,528.9C1269.2,530.2 1270.0,535.5 1272.2,536.6C1274.3,537.7 1279.9,535.8 1281.4,535.6" stroke="#666" stroke-width="2.1"/>
<path d="M1274.5,526.5C1276.1,527.7 1280.7,532.6 1283.8,533.6C1286.9,534.6 1291.5,532.6 1293.1,532.4" stroke="#666" stroke-width="2.1"/>
<path d="M1277.0,525.7C1278.0,526.7 1281.0,529.4 1283.0,531.7C1284.9,534.0 1287.8,538.1 1288.8,539.4" stroke="#666" stroke-width="2.1"/>
<path d="M1282.5,524.3C1283.6,524.8 1286.8,525.4 1288.7,527.4C1290.5,529.5 1292.6,535.0 1293.4,536.5" stroke="#666" stroke-width="2.1"/>
<path d="M1291.9,521.6C1292.1,523.3 1292.9,528.4 1292.9,531.5C1292.9,534.6 1292.2,538.6 1292.0,540.0" stroke="#666" stroke-width="2.1"/>
<path d="M1296.2,520.8C1296.6,521.2 1298.1,522.2 1298.7,523.1C1299.2,523.9 1299.6,525.4 1299.8,525.8" stroke="#666" stroke-width="2.1"/>
<path d="M1303.2,519.7C1303.1,520.3 1302.5,522.2 1302.8,523.5C1303.2,524.8 1304.7,526.8 1305.1,527.5" stroke="#666" stroke-width="2.1"/>
<path d="M1306.2,519.3C1306.1,521.2 1304.5,528.2 1305.7,530.9C1307.0,533.6 1312.4,534.7 1313.7,535.5" stroke="#666" stroke-width="2.1"/>
<path d="M1315.0,518.9C1314.7,520.3 1312.9,525.5 1313.2,527.7C1313.6,529.8 1316.6,531.2 1317.3,531.9" stroke="#666" stroke-width="2.1"/>
<path d="M1318.8,519.1C1318.9,520.1 1320.2,522.8 1319.5,525.5C1318.8,528.3 1315.6,534.0 1314.8,535.7" stroke="#666" stroke-width="2.1"/>
<path d="M1324.4,519.4C1324.1,519.9 1323.8,521.2 1322.7,522.7C1321.5,524.1 1318.3,527.1 1317.4,528.0" stroke="#666" stroke-width="2.1"/>
<path d="M1331.1,520.7C1330.5,521.3 1329.5,522.6 1327.6,524.3C1325.7,526.0 1321.0,529.8 1319.7,531.0" stroke="#666" stroke-width="2.1"/>
<path d="M1335.3,521.8C1334.7,522.5 1332.2,524.9 1332.0,526.4C1331.9,527.9 1334.1,530.1 1334.5,530.8" stroke="#666" stroke-width="2.1"/>
<path d="M1339.0,522.8C1338.0,524.1 1334.0,528.7 1333.1,530.3C1332.3,532.0 1333.7,532.3 1333.8,532.7" stroke="#666" stroke-width="2.1"/>
<path d="M1342.8,524.2C1342.0,525.1 1340.6,527.7 1338.1,529.5C1335.6,531.3 1329.5,534.1 1327.8,535.0" stroke="#666" stroke-width="2.1"/>
<path d="M1348.0,527.0C1347.3,528.2 1343.4,530.9 1343.4,533.8C1343.4,536.6 1347.3,542.6 1348.1,544.3" stroke="#666" stroke-width="2.1"/>
<path d="M1354.9,531.2C1354.1,531.3 1351.9,531.6 1349.9,532.2C1347.8,532.9 1343.8,534.7 1342.6,535.2" stroke="#666" stroke-width="2.1"/>
<path d="M1357.6,533.1C1357.2,533.7 1355.7,535.5 1354.8,536.5C1353.9,537.6 1352.8,538.8 1352.4,539.3" stroke="#666" stroke-width="2.1"/>
<path d="M1359.5,534.8C1358.6,535.9 1356.0,539.1 1353.9,541.6C1351.9,544.1 1348.5,548.6 1347.4,549.9" stroke="#666" stroke-width="2.1"/>
<path d="M1364.0,538.6C1363.4,539.7 1362.2,543.7 1360.6,545.2C1359.1,546.6 1355.9,546.8 1354.9,547.2" stroke="#666" stroke-width="2.1"/>
<path d="M1370.3,544.7C1369.1,545.1 1365.9,546.3 1363.1,546.8C1360.2,547.3 1355.0,547.7 1353.3,547.8" stroke="#666" stroke-width="2.1"/>
<path d="M1372.1,546.4C1370.9,547.0 1366.9,548.9 1364.9,550.3C1362.8,551.7 1360.4,553.9 1359.6,554.7" stroke="#666" stroke-width="2.1"/>
<path d="M1376.0,550.2C1374.9,550.7 1371.3,552.0 1369.5,553.3C1367.6,554.6 1365.7,557.4 1365.0,558.2" stroke="#666" stroke-width="2.1"/>
<path d="M1379.6,554.1C1378.5,555.1 1374.8,557.8 1372.8,560.0C1370.8,562.1 1368.4,565.9 1367.5,567.1" stroke="#666" stroke-width="2.1"/>
<path d="M1383.5,559.0C1382.6,559.7 1380.2,562.7 1378.0,563.3C1375.8,563.8 1371.4,562.4 1370.1,562.2" stroke="#666" stroke-width="2.1"/>
<path d="M1385.6,561.7C1384.2,562.0 1379.4,563.5 1377.4,563.2C1375.4,562.8 1374.3,560.2 1373.7,559.6" stroke="#666" stroke-width="2.1"/>
<path d="M1388.5,566.2C1387.0,566.1 1382.0,566.3 1379.7,565.7C1377.3,565.2 1375.2,563.3 1374.3,562.8" stroke="#666" stroke-width="2.1"/>
<path d="M1389.8,568.7C1388.3,569.5 1382.2,570.6 1380.8,573.5C1379.3,576.3 1380.9,583.8 1380.9,585.9" stroke="#666" stroke-width="2.1"/>
<path d="M1393.0,575.6C1391.8,575.3 1388.0,574.0 1385.7,573.6C1383.4,573.2 1380.4,573.4 1379.3,573.3" stroke="#666" stroke-width="2.1"/>
<path d="M1393.9,578.6C1392.8,578.7 1389.2,579.1 1387.5,579.3C1385.9,579.5 1384.7,579.7 1384.1,579.8" stroke="#666" stroke-width="2.1"/>
<path d="M1394.6,583.2C1394.0,582.8 1392.6,581.2 1391.2,580.6C1389.9,580.0 1387.0,579.7 1386.2,579.6" stroke="#666" stroke-width="2.1"/>
<path d="M1394.9,586.8C1393.5,585.8 1389.1,582.7 1386.6,580.8C1384.0,579.0 1381.0,576.6 1379.9,575.7" stroke="#666" stroke-width="2.1"/>
<path d="M1394.9,588.8C1393.4,589.1 1388.6,591.3 1385.8,590.4C1383.0,589.6 1379.4,585.1 1378.1,584.0" stroke="#666" stroke-width="2.1"/>
<path d="M1394.0,591.9C1392.7,592.0 1388.7,590.9 1386.4,592.4C1384.1,594.0 1381.2,599.7 1380.1,601.2" stroke="#666" stroke-width="2.1"/>
<path d="M1392.3,598.0C1391.4,597.6 1388.1,597.1 1386.6,595.6C1385.1,594.1 1383.8,590.1 1383.2,589.0" stroke="#666" stroke-width="2.1"/>
<path d="M1389.8,602.8C1388.7,601.5 1385.0,596.8 1383.6,595.2C1382.3,593.5 1381.9,593.3 1381.5,592.9" stroke="#666" stroke-width="2.1"/>
<path d="M1388.6,604.5C1387.2,604.2 1382.1,602.6 1379.9,602.6C1377.8,602.7 1376.7,604.4 1376.0,604.8" stroke="#666" stroke-width="2.1"/>
<path d="M1386.5,607.7C1385.8,606.5 1384.4,603.1 1382.4,600.4C1380.3,597.8 1375.6,593.3 1374.3,591.9" stroke="#666" stroke-width="2.1"/>
<path d="M1383.5,611.1C1381.8,609.9 1375.6,605.9 1373.5,604.1C1371.5,602.2 1371.5,600.6 1371.1,599.9" stroke="#666" stroke-width="2.1"/>
<path d="M1259.1,611.0C1260.3,610.8 1264.1,609.7 1266.0,609.6C1268.0,609.6 1270.2,610.5 1271.0,610.6" stroke="#666" stroke-width="2.1"/>
<path d="M1256.9,611.1C1257.4,610.5 1258.1,607.5 1259.9,607.4C1261.7,607.2 1266.3,609.8 1267.6,610.3" stroke="#666" stroke-width="2.1"/>
<path d="M1251.4,611.2C1252.3,610.8 1254.1,608.6 1256.8,608.5C1259.4,608.5 1265.5,610.6 1267.3,611.0" stroke="#666" stroke-width="2.1"/>
<path d="M1248.0,611.0C1249.4,610.4 1253.8,607.6 1256.1,607.6C1258.4,607.6 1260.8,610.3 1261.7,610.9" stroke="#666" stroke-width="2.1"/>
<path d="M1242.6,609.7C1243.7,609.4 1246.4,609.5 1248.9,608.1C1251.5,606.7 1256.4,602.6 1257.9,601.4" stroke="#666" stroke-width="2.1"/>
<path d="M1238.4,608.4C1239.7,608.0 1244.4,605.6 1246.7,606.3C1249.0,607.0 1251.1,611.4 1251.9,612.4" stroke="#666" stroke-width="2.1"/>
<path d="M1233.1,607.0C1233.8,606.0 1235.4,602.7 1237.2,601.4C1239.1,600.1 1242.9,599.5 1244.1,599.2" stroke="#666" stroke-width="2.1"/>
<path d="M1228.4,605.0C1229.6,604.2 1234.0,603.1 1235.9,600.7C1237.8,598.3 1239.2,592.2 1239.9,590.5" stroke="#666" stroke-width="2.1"/>
<path d="M1226.0,603.8C1227.9,603.6 1233.8,604.3 1237.0,602.2C1240.2,600.0 1243.8,592.8 1245.2,591.0" stroke="#666" stroke-width="2.1"/>
<path d="M1223.6,602.6C1223.9,602.4 1224.6,601.5 1225.5,601.0C1226.5,600.5 1228.8,599.7 1229.4,599.5" stroke="#666" stroke-width="2.1"/>
<path d="M1220.4,599.1C1221.6,598.7 1224.7,597.4 1227.7,596.5C1230.6,595.5 1236.3,593.8 1238.0,593.2" stroke="#666" stroke-width="2.1"/>
<path d="M1218.4,596.5C1219.7,596.7 1223.2,597.2 1226.2,597.5C1229.1,597.8 1234.5,598.2 1236.2,598.4" stroke="#666" stroke-width="2.1"/>
<path d="M1215.6,591.7C1216.8,591.9 1220.4,593.0 1222.4,593.3C1224.4,593.6 1226.7,593.5 1227.5,593.5" stroke="#666" stroke-width="2.1"/>
<path d="M1214.7,588.3C1215.4,588.4 1217.3,589.9 1218.8,589.1C1220.4,588.4 1223.0,584.6 1223.9,583.7" stroke="#666" stroke-width="2.1"/>
<path d="M1213.7,584.8C1214.6,585.0 1216.9,585.8 1219.3,586.1C1221.6,586.3 1226.2,586.4 1227.5,586.5" stroke="#666" stroke-width="2.1"/>
<path d="M1215.9,579.0C1216.5,579.1 1217.8,579.4 1219.1,579.5C1220.3,579.6 1222.8,579.6 1223.5,579.6" stroke="#c6c6c6" stroke-width="2.0"/>
<path d="M1216.6,575.0C1217.0,575.2 1218.3,576.9 1219.2,576.6C1220.1,576.2 1221.4,573.5 1221.9,572.9" stroke="#c6c6c6" stroke-width="2.0"/>
<path d="M1220.4,565.1C1220.8,565.4 1221.9,566.3 1222.9,566.9C1224.0,567.5 1226.1,568.6 1226.8,568.9" stroke="#c6c6c6" stroke-width="2.0"/>
<path d="M1223.5,558.4C1224.4,558.4 1227.4,559.2 1228.8,558.1C1230.3,557.0 1231.4,553.0 1232.0,552.0" stroke="#c6c6c6" stroke-width="2.0"/>
<path d="M1226.2,555.8C1226.9,555.5 1228.6,554.7 1230.2,553.9C1231.8,553.1 1234.8,551.6 1235.8,551.1" stroke="#c6c6c6" stroke-width="2.0"/>
<path d="M1234.8,549.0C1235.3,549.4 1236.7,550.8 1237.5,550.9C1238.4,551.0 1239.7,549.7 1240.1,549.5" stroke="#c6c6c6" stroke-width="2.0"/>
<path d="M1241.6,543.8C1242.4,543.7 1244.8,543.2 1246.0,543.3C1247.2,543.4 1248.4,544.3 1248.8,544.5" stroke="#c6c6c6" stroke-width="2.0"/>
<path d="M1247.4,541.7C1247.8,541.9 1249.5,542.7 1250.0,543.1C1250.6,543.5 1250.6,544.0 1250.7,544.2" stroke="#c6c6c6" stroke-width="2.0"/>
<path d="M1255.1,537.4C1255.3,538.1 1255.3,540.4 1256.0,541.9C1256.7,543.3 1258.9,545.4 1259.5,546.1" stroke="#c6c6c6" stroke-width="2.0"/>
<path d="M1268.6,530.8C1269.0,530.9 1270.3,530.5 1271.0,531.1C1271.8,531.7 1272.9,534.0 1273.3,534.6" stroke="#c6c6c6" stroke-width="2.0"/>
<path d="M1278.7,527.6C1278.9,527.9 1279.6,528.4 1279.8,529.4C1280.0,530.3 1280.0,532.5 1280.0,533.2" stroke="#c6c6c6" stroke-width="2.0"/>
<path d="M1286.0,525.2C1286.5,525.4 1288.5,526.0 1289.3,526.7C1290.0,527.5 1290.1,529.4 1290.3,529.9" stroke="#c6c6c6" stroke-width="2.0"/>
<path d="M1294.3,523.4C1294.4,524.2 1293.9,526.8 1294.7,528.3C1295.4,529.9 1298.1,532.1 1298.8,532.8" stroke="#c6c6c6" stroke-width="2.0"/>
<path d="M1305.5,521.7C1305.6,522.3 1306.0,524.2 1306.1,525.3C1306.2,526.3 1306.3,527.6 1306.3,528.1" stroke="#c6c6c6" stroke-width="2.0"/>
<path d="M1313.2,520.3C1312.5,520.4 1309.9,519.7 1308.9,520.7C1307.9,521.6 1307.3,525.1 1306.9,526.0" stroke="#c6c6c6" stroke-width="2.0"/>
<path d="M1322.1,521.4C1322.5,521.9 1324.2,523.6 1324.7,524.7C1325.2,525.8 1325.0,527.3 1325.0,527.9" stroke="#c6c6c6" stroke-width="2.0"/>
<path d="M1332.6,523.4C1332.5,524.2 1332.4,526.7 1332.0,527.9C1331.5,529.1 1330.3,530.2 1329.9,530.7" stroke="#c6c6c6" stroke-width="2.0"/>
<path d="M1344.2,527.3C1344.2,527.9 1344.6,529.8 1344.4,530.8C1344.2,531.9 1343.3,532.9 1343.1,533.4" stroke="#c6c6c6" stroke-width="2.0"/>
<path d="M1350.2,530.8C1349.9,531.4 1349.7,533.1 1348.4,534.0C1347.1,534.9 1343.3,535.8 1342.3,536.1" stroke="#c6c6c6" stroke-width="2.0"/>
<path d="M1358.5,536.5C1358.6,537.5 1359.8,540.9 1358.9,542.4C1358.1,544.0 1354.5,545.3 1353.6,545.9" stroke="#c6c6c6" stroke-width="2.0"/>
<path d="M1363.6,541.1C1363.5,541.6 1363.6,542.7 1363.4,544.0C1363.2,545.3 1362.4,548.1 1362.2,548.9" stroke="#c6c6c6" stroke-width="2.0"/>
<path d="M1367.4,544.7C1367.4,545.3 1367.8,547.4 1367.4,548.1C1366.9,548.7 1365.3,548.5 1364.9,548.6" stroke="#c6c6c6" stroke-width="2.0"/>
<path d="M1375.9,553.1C1375.4,553.3 1374.0,553.8 1373.0,554.4C1372.0,554.9 1370.4,555.9 1369.9,556.3" stroke="#c6c6c6" stroke-width="2.0"/>
<path d="M1380.8,558.9C1380.4,559.0 1379.1,560.1 1378.1,560.0C1377.2,559.9 1375.6,558.6 1375.1,558.3" stroke="#c6c6c6" stroke-width="2.0"/>
<path d="M1383.8,563.0C1383.2,563.1 1380.9,563.3 1380.1,563.4C1379.3,563.5 1379.1,563.6 1378.9,563.6" stroke="#c6c6c6" stroke-width="2.0"/>
<path d="M1389.3,572.8C1388.7,573.1 1386.7,574.1 1385.7,574.9C1384.7,575.6 1383.6,576.9 1383.2,577.3" stroke="#c6c6c6" stroke-width="2.0"/>
<path d="M1391.5,576.5C1390.9,576.3 1389.0,575.8 1387.9,575.2C1386.7,574.6 1385.1,573.2 1384.5,572.8" stroke="#c6c6c6" stroke-width="2.0"/>
<path d="M1392.9,584.8C1392.5,584.7 1391.3,584.9 1390.7,584.1C1390.2,583.3 1389.7,580.5 1389.5,579.8" stroke="#c6c6c6" stroke-width="2.0"/>
<path d="M1393.0,587.8C1392.2,587.2 1389.5,585.6 1388.2,584.4C1386.9,583.2 1385.6,581.1 1385.1,580.5" stroke="#c6c6c6" stroke-width="2.0"/>
<path d="M1390.0,598.7C1389.3,598.6 1387.2,598.4 1386.2,598.2C1385.2,598.0 1384.4,597.6 1384.1,597.4" stroke="#c6c6c6" stroke-width="2.0"/>
<path d="M1388.0,601.3C1387.2,600.9 1384.7,600.0 1383.3,598.6C1382.0,597.1 1380.5,593.6 1380.0,592.6" stroke="#c6c6c6" stroke-width="2.0"/>
<path d="M1381.6,611.5C1381.3,611.8 1380.8,613.0 1379.9,613.3C1379.1,613.5 1377.0,613.0 1376.4,612.9" stroke="#c6c6c6" stroke-width="2.0"/>
<path d="M1260.3,610.9C1260.9,610.9 1262.7,610.8 1263.8,610.8C1264.8,610.7 1266.1,610.4 1266.6,610.4" stroke="#c6c6c6" stroke-width="2.0"/>
<path d="M1256.8,611.3C1257.3,611.4 1259.2,611.6 1260.0,612.1C1260.7,612.6 1261.0,613.8 1261.3,614.2" stroke="#c6c6c6" stroke-width="2.0"/>
<path d="M1247.6,609.1C1247.8,608.8 1247.6,607.8 1248.4,607.0C1249.3,606.2 1252.0,604.8 1252.7,604.4" stroke="#c6c6c6" stroke-width="2.0"/>
<path d="M1241.5,608.3C1242.0,608.4 1243.1,609.0 1244.0,609.0C1245.0,608.9 1246.5,608.1 1247.0,607.9" stroke="#c6c6c6" stroke-width="2.0"/>
<path d="M1232.9,604.7C1233.1,604.4 1233.5,603.4 1234.4,602.8C1235.3,602.2 1237.8,601.5 1238.4,601.2" stroke="#c6c6c6" stroke-width="2.0"/>
<path d="M1225.1,602.3C1225.7,602.6 1227.8,603.4 1228.7,603.8C1229.6,604.2 1230.2,604.7 1230.5,604.9" stroke="#c6c6c6" stroke-width="2.0"/>
<path d="M1220.5,595.9C1221.1,595.6 1223.6,594.1 1224.2,593.9C1224.9,593.8 1224.4,594.9 1224.4,595.1" stroke="#c6c6c6" stroke-width="2.0"/>
<path d="M1218.3,593.0C1219.1,592.6 1221.6,591.1 1222.9,590.6C1224.3,590.0 1225.9,590.0 1226.5,589.9" stroke="#c6c6c6" stroke-width="2.0"/>
<path d="M1216.2,585.6C1216.5,585.7 1217.0,586.5 1217.8,586.2C1218.6,585.9 1220.6,584.2 1221.1,583.8" stroke="#c6c6c6" stroke-width="2.0"/>
<path d="M1340.1,604.3C1342.1,601.7 1350.3,591.4 1352.4,588.8" stroke="#c8c8c8" stroke-width="1.6"/>
<path d="M1340.1,604.3C1343.1,603.0 1355.3,597.9 1358.3,596.6" stroke="#c8c8c8" stroke-width="1.6"/>
<path d="M1340.1,604.3C1343.4,604.6 1356.5,606.0 1359.8,606.3" stroke="#c8c8c8" stroke-width="1.6"/>
<path d="M1340.1,604.3C1342.8,606.2 1353.7,613.6 1356.4,615.5" stroke="#c8c8c8" stroke-width="1.6"/>
<path d="M1340.1,604.3C1341.6,607.3 1347.6,619.0 1349.1,622.0" stroke="#c8c8c8" stroke-width="1.6"/>
<path d="M1340.1,604.3C1340.0,607.6 1339.6,620.8 1339.5,624.1" stroke="#c8c8c8" stroke-width="1.6"/>
<path d="M1340.1,604.3C1338.4,607.2 1331.7,618.6 1330.1,621.4" stroke="#c8c8c8" stroke-width="1.6"/>
<path d="M1340.1,604.3C1337.2,606.0 1325.9,612.8 1323.1,614.5" stroke="#c8c8c8" stroke-width="1.6"/>
<path d="M1340.1,604.3C1336.8,604.5 1323.6,605.0 1320.3,605.1" stroke="#c8c8c8" stroke-width="1.6"/>
</g></g>
<g filter="url(#b06)"><line x1="1247.6" y1="499" x2="1247.6" y2="648" stroke="#1c1c60" stroke-width="1.5"/><line x1="1210" y1="583.2" x2="1398" y2="583.2" stroke="#1c1c60" stroke-width="1.5"/>
<line x1="1247.6" y1="543" x2="1247.6" y2="611" stroke="#8686cc" stroke-width="1.5"/><line x1="1215" y1="583.2" x2="1394" y2="583.2" stroke="#5c5cb0" stroke-width="1.4" opacity="0.7"/></g>
<g filter="url(#b06)" fill="#f0dc2c"><path d="M1249.3,587.0C1248.9,586.3 1251.7,582.9 1252.6,582.9C1253.5,582.9 1255.1,586.3 1254.6,587.0C1254.0,587.7 1249.6,587.7 1249.3,587.0Z"/><path d="M1244.7,579.2C1245.3,578.9 1248.6,579.2 1249.3,579.5C1250.0,579.9 1249.6,581.3 1248.9,581.5C1248.3,581.8 1245.9,581.6 1245.1,581.2C1244.4,580.8 1244.0,579.5 1244.7,579.2Z"/></g>
</g>
<text x="1286.9" y="643.1" textLength="63" lengthAdjust="spacingAndGlyphs" font-size="28.8" font-weight="bold" fill="#40c04c" filter="url(#b06)" font-family='"Liberation Sans", sans-serif'>x = 1</text>
</g>
</svg>
</body></html>
